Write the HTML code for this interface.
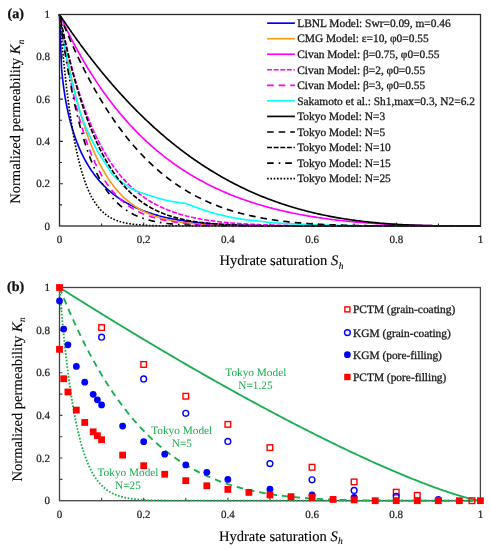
<!DOCTYPE html>
<html><head><meta charset="utf-8"><style>
html,body{margin:0;padding:0;background:#fff;}
body{width:490px;height:550px;overflow:hidden;font-family:"Liberation Serif",serif;}
svg{display:block;will-change:transform;} text{text-rendering:geometricPrecision;stroke-width:0.3px;}
</style></head><body>
<svg width="490" height="550" viewBox="0 0 490 550">
<rect width="490" height="550" fill="#fff"/>
<g>
<path d="M59.50,14.50 L61.60,68.86 L61.61,68.88 L61.62,68.97 L61.63,69.12 L61.65,69.33 L61.67,69.59 L61.70,69.91 L61.73,70.29 L61.77,70.71 L61.82,71.19 L61.87,71.72 L61.92,72.30 L61.98,72.92 L62.05,73.59 L62.12,74.30 L62.20,75.04 L62.28,75.83 L62.37,76.65 L62.46,77.50 L62.55,78.38 L62.66,79.30 L62.77,80.24 L62.88,81.20 L63.00,82.19 L63.12,83.20 L63.25,84.22 L63.38,85.27 L63.52,86.33 L63.67,87.41 L63.82,88.50 L63.97,89.61 L64.13,90.73 L64.30,91.85 L64.47,92.99 L64.65,94.13 L64.83,95.28 L65.02,96.44 L65.21,97.61 L65.40,98.77 L65.61,99.94 L65.81,101.12 L66.03,102.30 L66.25,103.48 L66.47,104.66 L66.70,105.84 L66.93,107.02 L67.17,108.20 L67.42,109.38 L67.67,110.56 L67.92,111.74 L68.18,112.92 L68.45,114.09 L68.72,115.26 L69.00,116.43 L69.28,117.60 L69.56,118.76 L69.86,119.92 L70.15,121.07 L70.46,122.22 L70.76,123.37 L71.08,124.51 L71.40,125.65 L71.72,126.78 L72.05,127.90 L72.38,129.03 L72.72,130.14 L73.07,131.25 L73.42,132.36 L73.77,133.45 L74.13,134.55 L74.50,135.63 L74.87,136.71 L75.25,137.79 L75.63,138.85 L76.01,139.91 L76.41,140.97 L76.80,142.02 L77.21,143.06 L77.61,144.09 L78.03,145.12 L78.44,146.14 L78.87,147.15 L79.30,148.16 L79.73,149.16 L80.17,150.15 L80.62,151.14 L81.07,152.11 L81.52,153.09 L81.98,154.05 L82.45,155.01 L82.92,155.95 L83.39,156.90 L83.88,157.83 L84.36,158.76 L84.85,159.68 L85.35,160.59 L85.85,161.49 L86.36,162.39 L86.88,163.28 L87.39,164.16 L87.92,165.04 L88.45,165.90 L88.98,166.76 L89.52,167.62 L90.06,168.46 L90.61,169.30 L91.17,170.13 L91.73,170.95 L92.30,171.77 L92.87,172.58 L93.44,173.38 L94.02,174.17 L94.61,174.95 L95.20,175.73 L95.80,176.50 L96.40,177.26 L97.01,178.02 L97.62,178.77 L98.24,179.51 L98.87,180.24 L99.49,180.97 L100.13,181.69 L100.77,182.40 L101.41,183.10 L102.06,183.80 L102.72,184.49 L103.38,185.17 L104.04,185.85 L104.72,186.52 L105.39,187.18 L106.07,187.83 L106.76,188.48 L107.45,189.12 L108.15,189.75 L108.85,190.38 L109.56,191.00 L110.27,191.61 L110.99,192.21 L111.71,192.81 L112.44,193.40 L113.18,193.98 L113.92,194.56 L114.66,195.13 L115.41,195.69 L116.17,196.25 L116.93,196.80 L117.69,197.34 L118.46,197.88 L119.24,198.41 L120.02,198.93 L120.81,199.45 L121.60,199.96 L122.40,200.46 L123.20,200.96 L124.01,201.45 L124.82,201.93 L125.64,202.41 L126.46,202.88 L127.29,203.35 L128.13,203.81 L128.96,204.26 L129.81,204.71 L130.66,205.15 L131.51,205.58 L132.37,206.01 L133.24,206.43 L134.11,206.85 L134.99,207.26 L135.87,207.66 L136.76,208.06 L137.65,208.45 L138.54,208.84 L139.45,209.22 L140.36,209.60 L141.27,209.96 L142.19,210.33 L143.11,210.69 L144.04,211.04 L144.97,211.39 L145.91,211.73 L146.86,212.06 L147.81,212.39 L148.76,212.72 L149.72,213.04 L150.69,213.35 L151.66,213.66 L152.64,213.97 L153.62,214.27 L154.60,214.56 L155.60,214.85 L156.59,215.13 L157.60,215.41 L158.60,215.69 L159.62,215.95 L160.63,216.22 L161.66,216.48 L162.69,216.73 L163.72,216.98 L164.76,217.23 L165.80,217.47 L166.85,217.70 L167.91,217.94 L168.97,218.16 L170.04,218.39 L171.11,218.60 L172.18,218.82 L173.26,219.03 L174.35,219.23 L175.44,219.43 L176.54,219.63 L177.64,219.82 L178.75,220.01 L179.86,220.19 L180.98,220.37 L182.10,220.55 L183.23,220.72 L184.37,220.89 L185.51,221.06 L186.65,221.22 L187.80,221.38 L188.96,221.53 L190.12,221.68 L191.28,221.83 L192.45,221.97 L193.63,222.11 L194.81,222.25 L196.00,222.38 L197.19,222.51 L198.39,222.63 L199.59,222.76 L200.80,222.88 L202.01,222.99 L203.23,223.11 L204.45,223.22 L205.68,223.32 L206.91,223.43 L208.15,223.53 L209.40,223.63 L210.65,223.72 L211.90,223.82 L213.16,223.91 L214.43,224.00 L215.70,224.08 L216.98,224.16 L218.26,224.24 L219.54,224.32 L220.84,224.40 L222.13,224.47 L223.44,224.54 L224.74,224.61 L226.06,224.67 L227.38,224.73 L228.70,224.80 L230.03,224.85 L231.36,224.91 L232.70,224.97 L234.05,225.02 L235.40,225.07 L236.75,225.12 L238.11,225.17 L239.48,225.21 L240.85,225.25 L242.22,225.30 L243.60,225.34 L244.99,225.37 L246.38,225.41 L247.78,225.45 L249.18,225.48 L250.59,225.51 L252.00,225.54 L253.42,225.57 L254.85,225.60 L256.27,225.63 L257.71,225.65 L259.15,225.67 L260.59,225.70 L262.04,225.72 L263.50,225.74 L264.96,225.76 L266.42,225.78 L267.89,225.79 L269.37,225.81 L270.85,225.82 L272.34,225.84 L273.83,225.85 L275.33,225.87 L276.83,225.88 L278.34,225.89 L279.85,225.90 L281.37,225.91 L282.89,225.92 L284.42,225.93 L285.95,225.93 L287.49,225.94 L289.04,225.95 L290.59,225.95 L292.14,225.96 L293.70,225.96 L295.27,225.97 L296.84,225.97 L298.42,225.97 L300.00,225.98 L301.58,225.98 L303.18,225.98 L304.77,225.99 L306.38,225.99 L307.98,225.99 L309.60,225.99 L311.21,225.99 L312.84,225.99 L314.47,226.00 L316.10,226.00 L317.74,226.00 L319.38,226.00 L321.03,226.00 L322.69,226.00 L324.35,226.00 L326.02,226.00 L327.69,226.00 L329.36,226.00 L331.04,226.00 L332.73,226.00 L334.42,226.00 L336.12,226.00 L337.82,226.00 L339.53,226.00 L341.24,226.00 L342.96,226.00 L344.68,226.00 L346.41,226.00 L348.15,226.00 L349.89,226.00 L351.63,226.00 L353.38,226.00 L355.13,226.00 L356.90,226.00 L358.66,226.00 L360.43,226.00 L362.21,226.00 L363.99,226.00 L365.78,226.00 L367.57,226.00 L369.36,226.00 L371.17,226.00 L372.97,226.00 L374.79,226.00 L376.61,226.00 L378.43,226.00 L380.26,226.00 L382.09,226.00 L383.93,226.00 L385.78,226.00 L387.63,226.00 L389.48,226.00 L391.34,226.00 L393.21,226.00 L395.08,226.00 L396.95,226.00 L398.83,226.00 L400.72,226.00 L402.61,226.00 L404.51,226.00 L406.41,226.00 L408.32,226.00 L410.23,226.00 L412.15,226.00 L414.07,226.00 L416.00,226.00 L417.94,226.00 L419.88,226.00 L421.82,226.00 L423.77,226.00 L425.73,226.00 L427.69,226.00 L429.65,226.00 L431.62,226.00 L433.60,226.00 L435.58,226.00 L437.57,226.00 L439.56,226.00 L441.56,226.00 L443.56,226.00 L445.57,226.00 L447.58,226.00 L449.60,226.00 L451.62,226.00 L453.65,226.00 L455.68,226.00 L457.72,226.00 L459.77,226.00 L461.82,226.00 L463.87,226.00 L465.93,226.00 L468.00,226.00 L470.07,226.00 L472.14,226.00 L474.22,226.00 L476.31,226.00 L478.40,226.00 L480.50,226.00" fill="none" stroke="#0000ee" stroke-width="1.65" stroke-linecap="butt" stroke-linejoin="round"/>
<path d="M59.50,14.50 L59.50,14.51 L59.51,14.54 L59.52,14.60 L59.53,14.67 L59.54,14.76 L59.56,14.88 L59.58,15.02 L59.61,15.18 L59.64,15.35 L59.67,15.55 L59.70,15.78 L59.74,16.02 L59.79,16.28 L59.83,16.56 L59.88,16.87 L59.93,17.19 L59.99,17.53 L60.05,17.90 L60.11,18.28 L60.18,18.69 L60.25,19.11 L60.32,19.56 L60.39,20.02 L60.47,20.51 L60.56,21.01 L60.64,21.53 L60.73,22.07 L60.83,22.63 L60.92,23.21 L61.02,23.81 L61.12,24.43 L61.23,25.06 L61.34,25.72 L61.45,26.39 L61.57,27.08 L61.69,27.78 L61.81,28.51 L61.94,29.25 L62.07,30.01 L62.21,30.78 L62.34,31.57 L62.48,32.38 L62.63,33.21 L62.77,34.05 L62.92,34.90 L63.08,35.77 L63.23,36.66 L63.40,37.56 L63.56,38.48 L63.73,39.41 L63.90,40.35 L64.07,41.31 L64.25,42.29 L64.43,43.27 L64.61,44.27 L64.80,45.28 L64.99,46.31 L65.19,47.35 L65.39,48.40 L65.59,49.46 L65.79,50.53 L66.00,51.62 L66.21,52.71 L66.43,53.82 L66.64,54.94 L66.86,56.06 L67.09,57.20 L67.32,58.35 L67.55,59.50 L67.78,60.67 L68.02,61.84 L68.26,63.03 L68.51,64.22 L68.76,65.42 L69.01,66.63 L69.27,67.84 L69.52,69.06 L69.79,70.29 L70.05,71.52 L70.32,72.76 L70.59,74.01 L70.87,75.26 L71.15,76.52 L71.43,77.79 L71.72,79.05 L72.00,80.33 L72.30,81.60 L72.59,82.88 L72.89,84.17 L73.20,85.45 L73.50,86.74 L73.81,88.04 L74.12,89.33 L74.44,90.63 L74.76,91.93 L75.08,93.23 L75.41,94.54 L75.74,95.84 L76.07,97.15 L76.41,98.45 L76.75,99.76 L77.09,101.06 L77.44,102.37 L77.79,103.68 L78.14,104.98 L78.50,106.28 L78.86,107.59 L79.22,108.89 L79.59,110.19 L79.96,111.49 L80.33,112.78 L80.71,114.08 L81.09,115.37 L81.47,116.65 L81.86,117.94 L82.25,119.22 L82.64,120.50 L83.04,121.77 L83.44,123.04 L83.85,124.31 L84.25,125.57 L84.67,126.83 L85.08,128.08 L85.50,129.33 L85.92,130.57 L86.34,131.81 L86.77,133.04 L87.20,134.27 L87.64,135.49 L88.07,136.70 L88.52,137.91 L88.96,139.11 L89.41,140.30 L89.86,141.49 L90.31,142.67 L90.77,143.85 L91.23,145.01 L91.70,146.17 L92.17,147.33 L92.64,148.47 L93.11,149.61 L93.59,150.74 L94.07,151.86 L94.56,152.97 L95.05,154.07 L95.54,155.17 L96.04,156.26 L96.53,157.34 L97.04,158.41 L97.54,159.47 L98.05,160.52 L98.56,161.57 L99.08,162.60 L99.60,163.63 L100.12,164.65 L100.65,165.65 L101.18,166.65 L101.71,167.64 L102.24,168.62 L102.78,169.59 L103.33,170.55 L103.87,171.50 L104.42,172.45 L104.97,173.38 L105.53,174.30 L106.09,175.21 L106.65,176.11 L107.22,177.01 L107.79,177.89 L108.36,178.76 L108.94,179.62 L109.52,180.48 L110.10,181.32 L110.69,182.15 L111.28,182.98 L111.87,183.79 L112.47,184.59 L113.07,185.39 L113.67,186.17 L114.28,186.94 L114.89,187.71 L115.50,188.46 L116.12,189.20 L116.74,189.94 L117.37,190.66 L117.99,191.37 L118.62,192.08 L119.26,192.77 L119.90,193.46 L120.54,194.13 L121.18,194.80 L121.83,195.45 L122.48,196.10 L123.13,196.73 L123.79,197.36 L124.45,197.98 L125.12,198.58 L125.78,199.18 L126.46,199.77 L127.13,200.35 L127.81,200.92 L128.49,201.48 L129.17,202.03 L129.86,202.58 L130.55,203.11 L131.25,203.64 L131.95,204.15 L132.65,204.66 L133.35,205.16 L134.06,205.65 L134.77,206.13 L135.49,206.61 L136.21,207.07 L136.93,207.53 L137.66,207.98 L138.38,208.42 L139.12,208.85 L139.85,209.27 L140.59,209.69 L141.33,210.10 L142.08,210.50 L142.83,210.89 L143.58,211.28 L144.34,211.65 L145.09,212.02 L145.86,212.39 L146.62,212.74 L147.39,213.09 L148.16,213.43 L148.94,213.77 L149.72,214.09 L150.50,214.41 L151.29,214.73 L152.08,215.03 L152.87,215.34 L153.67,215.63 L154.47,215.92 L155.27,216.20 L156.08,216.47 L156.89,216.74 L157.70,217.01 L158.52,217.26 L159.34,217.51 L160.16,217.76 L160.99,218.00 L161.82,218.23 L162.65,218.46 L163.49,218.69 L164.33,218.91 L165.17,219.12 L166.02,219.33 L166.87,219.53 L167.72,219.73 L168.58,219.92 L169.44,220.11 L170.31,220.29 L171.17,220.47 L172.04,220.64 L172.92,220.81 L173.80,220.98 L174.68,221.14 L175.56,221.30 L176.45,221.45 L177.34,221.60 L178.23,221.74 L179.13,221.88 L180.03,222.02 L180.94,222.15 L181.84,222.28 L182.76,222.41 L183.67,222.53 L184.59,222.65 L185.51,222.77 L186.44,222.88 L187.36,222.99 L188.30,223.09 L189.23,223.20 L190.17,223.30 L191.11,223.39 L192.06,223.49 L193.00,223.58 L193.96,223.67 L194.91,223.75 L195.87,223.83 L196.83,223.91 L197.80,223.99 L198.77,224.07 L199.74,224.14 L200.71,224.21 L201.69,224.28 L202.67,224.35 L203.66,224.41 L204.65,224.47 L205.64,224.53 L206.64,224.59 L207.64,224.65 L208.64,224.70 L209.65,224.75 L210.66,224.80 L211.67,224.85 L212.68,224.90 L213.70,224.95 L214.73,224.99 L215.75,225.03 L216.78,225.07 L217.82,225.11 L218.85,225.15 L219.89,225.19 L220.94,225.22 L221.98,225.26 L223.03,225.29 L224.08,225.32 L225.14,225.35 L226.20,225.38 L227.27,225.41 L228.33,225.43 L229.40,225.46 L230.48,225.48 L231.55,225.51 L232.63,225.53 L233.72,225.55 L234.80,225.57 L235.89,225.59 L236.99,225.61 L238.09,225.63 L239.19,225.65 L240.29,225.67 L241.40,225.68 L242.51,225.70 L243.62,225.71 L244.74,225.73 L245.86,225.74 L246.99,225.76 L248.11,225.77 L249.25,225.78 L250.38,225.79 L251.52,225.80 L252.66,225.81 L253.80,225.82 L254.95,225.83 L256.10,225.84 L257.26,225.85 L258.42,225.86 L259.58,225.87 L260.74,225.87 L261.91,225.88 L263.08,225.89 L264.26,225.89 L265.44,225.90 L266.62,225.91 L267.80,225.91 L268.99,225.92 L270.18,225.92 L271.38,225.93 L272.58,225.93 L273.78,225.93 L274.99,225.94 L276.19,225.94 L277.41,225.95 L278.62,225.95 L279.84,225.95 L281.06,225.96 L282.29,225.96 L283.52,225.96 L284.75,225.96 L285.99,225.97 L287.23,225.97 L288.47,225.97 L289.72,225.97 L290.96,225.97 L292.22,225.98 L293.47,225.98 L294.73,225.98 L296.00,225.98 L297.26,225.98 L298.53,225.98 L299.81,225.98 L301.08,225.99 L302.36,225.99 L303.65,225.99 L304.93,225.99 L306.22,225.99 L307.52,225.99 L308.81,225.99 L310.11,225.99 L311.42,225.99 L312.72,225.99 L314.03,225.99 L315.35,225.99 L316.66,225.99 L317.98,225.99 L319.31,226.00 L320.64,226.00 L321.97,226.00 L323.30,226.00 L324.64,226.00 L325.98,226.00 L327.32,226.00 L328.67,226.00 L330.02,226.00 L331.38,226.00 L332.73,226.00 L334.09,226.00 L335.46,226.00 L336.83,226.00 L338.20,226.00 L339.57,226.00 L340.95,226.00 L342.33,226.00 L343.72,226.00 L345.10,226.00 L346.50,226.00 L347.89,226.00 L349.29,226.00 L350.69,226.00 L352.10,226.00 L353.50,226.00 L354.92,226.00 L356.33,226.00 L357.75,226.00 L359.17,226.00 L360.60,226.00 L362.03,226.00 L363.46,226.00 L364.89,226.00 L366.33,226.00 L367.77,226.00 L369.22,226.00 L370.67,226.00 L372.12,226.00 L373.58,226.00 L375.04,226.00 L376.50,226.00 L377.96,226.00 L379.43,226.00 L380.91,226.00 L382.38,226.00 L383.86,226.00 L385.34,226.00 L386.83,226.00 L388.32,226.00 L389.81,226.00 L391.31,226.00 L392.81,226.00 L394.31,226.00 L395.82,226.00 L397.33,226.00 L398.84,226.00 L400.36,226.00 L401.88,226.00 L403.40,226.00 L404.93,226.00 L406.46,226.00 L407.99,226.00 L409.53,226.00 L411.07,226.00 L412.61,226.00 L414.16,226.00 L415.71,226.00 L417.26,226.00 L418.82,226.00 L420.38,226.00 L421.95,226.00 L423.51,226.00 L425.08,226.00 L426.66,226.00 L428.24,226.00 L429.82,226.00 L431.40,226.00 L432.99,226.00 L434.58,226.00 L436.17,226.00 L437.77,226.00 L439.37,226.00 L440.98,226.00 L442.58,226.00 L444.20,226.00 L445.81,226.00 L447.43,226.00 L449.05,226.00 L450.68,226.00 L452.30,226.00 L453.93,226.00 L455.57,226.00 L457.21,226.00 L458.85,226.00 L460.49,226.00 L462.14,226.00 L463.80,226.00 L465.45,226.00 L467.11,226.00 L468.77,226.00 L470.44,226.00 L472.11,226.00 L473.78,226.00 L475.45,226.00 L477.13,226.00 L478.81,226.00 L480.50,226.00" fill="none" stroke="#f89b1c" stroke-width="1.65" stroke-linecap="butt" stroke-linejoin="round"/>
<path d="M59.50,14.50 L59.50,14.50 L59.51,14.51 L59.52,14.53 L59.53,14.56 L59.54,14.59 L59.56,14.63 L59.58,14.68 L59.61,14.74 L59.64,14.80 L59.67,14.87 L59.70,14.94 L59.74,15.03 L59.79,15.12 L59.83,15.22 L59.88,15.33 L59.93,15.44 L59.99,15.56 L60.05,15.69 L60.11,15.82 L60.18,15.97 L60.25,16.12 L60.32,16.27 L60.39,16.44 L60.47,16.61 L60.56,16.79 L60.64,16.97 L60.73,17.17 L60.83,17.37 L60.92,17.57 L61.02,17.79 L61.12,18.01 L61.23,18.24 L61.34,18.47 L61.45,18.71 L61.57,18.96 L61.69,19.22 L61.81,19.48 L61.94,19.75 L62.07,20.03 L62.21,20.31 L62.34,20.60 L62.48,20.90 L62.63,21.20 L62.77,21.51 L62.92,21.83 L63.08,22.15 L63.23,22.48 L63.40,22.82 L63.56,23.16 L63.73,23.51 L63.90,23.86 L64.07,24.23 L64.25,24.59 L64.43,24.97 L64.61,25.35 L64.80,25.74 L64.99,26.13 L65.19,26.53 L65.39,26.94 L65.59,27.35 L65.79,27.77 L66.00,28.19 L66.21,28.62 L66.43,29.06 L66.64,29.50 L66.86,29.95 L67.09,30.40 L67.32,30.86 L67.55,31.33 L67.78,31.80 L68.02,32.28 L68.26,32.76 L68.51,33.25 L68.76,33.74 L69.01,34.24 L69.27,34.74 L69.52,35.25 L69.79,35.77 L70.05,36.29 L70.32,36.81 L70.59,37.34 L70.87,37.88 L71.15,38.42 L71.43,38.97 L71.72,39.52 L72.00,40.07 L72.30,40.63 L72.59,41.20 L72.89,41.77 L73.20,42.34 L73.50,42.92 L73.81,43.51 L74.12,44.10 L74.44,44.69 L74.76,45.29 L75.08,45.89 L75.41,46.50 L75.74,47.11 L76.07,47.72 L76.41,48.34 L76.75,48.96 L77.09,49.59 L77.44,50.22 L77.79,50.86 L78.14,51.50 L78.50,52.14 L78.86,52.78 L79.22,53.43 L79.59,54.09 L79.96,54.75 L80.33,55.41 L80.71,56.07 L81.09,56.74 L81.47,57.41 L81.86,58.09 L82.25,58.77 L82.64,59.45 L83.04,60.13 L83.44,60.82 L83.85,61.51 L84.25,62.20 L84.67,62.90 L85.08,63.60 L85.50,64.30 L85.92,65.01 L86.34,65.71 L86.77,66.42 L87.20,67.14 L87.64,67.85 L88.07,68.57 L88.52,69.29 L88.96,70.01 L89.41,70.74 L89.86,71.47 L90.31,72.20 L90.77,72.93 L91.23,73.66 L91.70,74.40 L92.17,75.13 L92.64,75.87 L93.11,76.61 L93.59,77.36 L94.07,78.10 L94.56,78.85 L95.05,79.60 L95.54,80.35 L96.04,81.10 L96.53,81.85 L97.04,82.61 L97.54,83.36 L98.05,84.12 L98.56,84.88 L99.08,85.63 L99.60,86.39 L100.12,87.16 L100.65,87.92 L101.18,88.68 L101.71,89.45 L102.24,90.21 L102.78,90.98 L103.33,91.74 L103.87,92.51 L104.42,93.28 L104.97,94.05 L105.53,94.81 L106.09,95.58 L106.65,96.35 L107.22,97.12 L107.79,97.89 L108.36,98.67 L108.94,99.44 L109.52,100.21 L110.10,100.98 L110.69,101.75 L111.28,102.52 L111.87,103.29 L112.47,104.06 L113.07,104.84 L113.67,105.61 L114.28,106.38 L114.89,107.15 L115.50,107.92 L116.12,108.69 L116.74,109.46 L117.37,110.23 L117.99,110.99 L118.62,111.76 L119.26,112.53 L119.90,113.30 L120.54,114.06 L121.18,114.83 L121.83,115.59 L122.48,116.35 L123.13,117.12 L123.79,117.88 L124.45,118.64 L125.12,119.40 L125.78,120.16 L126.46,120.92 L127.13,121.67 L127.81,122.43 L128.49,123.18 L129.17,123.94 L129.86,124.69 L130.55,125.44 L131.25,126.19 L131.95,126.93 L132.65,127.68 L133.35,128.42 L134.06,129.17 L134.77,129.91 L135.49,130.65 L136.21,131.39 L136.93,132.12 L137.66,132.86 L138.38,133.59 L139.12,134.32 L139.85,135.05 L140.59,135.78 L141.33,136.51 L142.08,137.23 L142.83,137.95 L143.58,138.67 L144.34,139.39 L145.09,140.11 L145.86,140.82 L146.62,141.53 L147.39,142.24 L148.16,142.95 L148.94,143.66 L149.72,144.36 L150.50,145.06 L151.29,145.76 L152.08,146.46 L152.87,147.15 L153.67,147.84 L154.47,148.53 L155.27,149.22 L156.08,149.90 L156.89,150.58 L157.70,151.26 L158.52,151.94 L159.34,152.61 L160.16,153.29 L160.99,153.95 L161.82,154.62 L162.65,155.29 L163.49,155.95 L164.33,156.60 L165.17,157.26 L166.02,157.91 L166.87,158.56 L167.72,159.21 L168.58,159.86 L169.44,160.50 L170.31,161.14 L171.17,161.77 L172.04,162.41 L172.92,163.04 L173.80,163.66 L174.68,164.29 L175.56,164.91 L176.45,165.53 L177.34,166.14 L178.23,166.76 L179.13,167.37 L180.03,167.97 L180.94,168.58 L181.84,169.18 L182.76,169.77 L183.67,170.37 L184.59,170.96 L185.51,171.55 L186.44,172.13 L187.36,172.71 L188.30,173.29 L189.23,173.87 L190.17,174.44 L191.11,175.01 L192.06,175.57 L193.00,176.13 L193.96,176.69 L194.91,177.25 L195.87,177.80 L196.83,178.35 L197.80,178.90 L198.77,179.44 L199.74,179.98 L200.71,180.52 L201.69,181.05 L202.67,181.58 L203.66,182.10 L204.65,182.63 L205.64,183.15 L206.64,183.66 L207.64,184.18 L208.64,184.68 L209.65,185.19 L210.66,185.69 L211.67,186.19 L212.68,186.69 L213.70,187.18 L214.73,187.67 L215.75,188.16 L216.78,188.64 L217.82,189.12 L218.85,189.59 L219.89,190.06 L220.94,190.53 L221.98,191.00 L223.03,191.46 L224.08,191.92 L225.14,192.37 L226.20,192.82 L227.27,193.27 L228.33,193.72 L229.40,194.16 L230.48,194.59 L231.55,195.03 L232.63,195.46 L233.72,195.89 L234.80,196.31 L235.89,196.73 L236.99,197.15 L238.09,197.56 L239.19,197.97 L240.29,198.38 L241.40,198.78 L242.51,199.18 L243.62,199.58 L244.74,199.97 L245.86,200.36 L246.99,200.75 L248.11,201.13 L249.25,201.51 L250.38,201.89 L251.52,202.26 L252.66,202.63 L253.80,202.99 L254.95,203.36 L256.10,203.72 L257.26,204.07 L258.42,204.42 L259.58,204.77 L260.74,205.12 L261.91,205.46 L263.08,205.80 L264.26,206.14 L265.44,206.47 L266.62,206.80 L267.80,207.12 L268.99,207.45 L270.18,207.77 L271.38,208.08 L272.58,208.39 L273.78,208.70 L274.99,209.01 L276.19,209.31 L277.41,209.61 L278.62,209.91 L279.84,210.20 L281.06,210.49 L282.29,210.78 L283.52,211.06 L284.75,211.34 L285.99,211.62 L287.23,211.89 L288.47,212.16 L289.72,212.43 L290.96,212.70 L292.22,212.96 L293.47,213.22 L294.73,213.47 L296.00,213.72 L297.26,213.97 L298.53,214.22 L299.81,214.46 L301.08,214.70 L302.36,214.94 L303.65,215.17 L304.93,215.40 L306.22,215.63 L307.52,215.85 L308.81,216.08 L310.11,216.29 L311.42,216.51 L312.72,216.72 L314.03,216.93 L315.35,217.14 L316.66,217.34 L317.98,217.54 L319.31,217.74 L320.64,217.94 L321.97,218.13 L323.30,218.32 L324.64,218.51 L325.98,218.69 L327.32,218.87 L328.67,219.05 L330.02,219.23 L331.38,219.40 L332.73,219.57 L334.09,219.74 L335.46,219.90 L336.83,220.07 L338.20,220.23 L339.57,220.38 L340.95,220.54 L342.33,220.69 L343.72,220.84 L345.10,220.99 L346.50,221.13 L347.89,221.27 L349.29,221.41 L350.69,221.55 L352.10,221.68 L353.50,221.81 L354.92,221.94 L356.33,222.07 L357.75,222.19 L359.17,222.31 L360.60,222.43 L362.03,222.55 L363.46,222.66 L364.89,222.77 L366.33,222.88 L367.77,222.99 L369.22,223.10 L370.67,223.20 L372.12,223.30 L373.58,223.40 L375.04,223.50 L376.50,223.59 L377.96,223.68 L379.43,223.77 L380.91,223.86 L382.38,223.94 L383.86,224.03 L385.34,224.11 L386.83,224.19 L388.32,224.26 L389.81,224.34 L391.31,224.41 L392.81,224.48 L394.31,224.55 L395.82,224.62 L397.33,224.68 L398.84,224.75 L400.36,224.81 L401.88,224.87 L403.40,224.93 L404.93,224.98 L406.46,225.04 L407.99,225.09 L409.53,225.14 L411.07,225.19 L412.61,225.23 L414.16,225.28 L415.71,225.32 L417.26,225.36 L418.82,225.41 L420.38,225.44 L421.95,225.48 L423.51,225.52 L425.08,225.55 L426.66,225.58 L428.24,225.61 L429.82,225.64 L431.40,225.67 L432.99,225.70 L434.58,225.72 L436.17,225.75 L437.77,225.77 L439.37,225.79 L440.98,225.81 L442.58,225.83 L444.20,225.85 L445.81,225.87 L447.43,225.88 L449.05,225.90 L450.68,225.91 L452.30,225.92 L453.93,225.93 L455.57,225.94 L457.21,225.95 L458.85,225.96 L460.49,225.97 L462.14,225.97 L463.80,225.98 L465.45,225.98 L467.11,225.99 L468.77,225.99 L470.44,225.99 L472.11,226.00 L473.78,226.00 L475.45,226.00 L477.13,226.00 L478.81,226.00 L480.50,226.00" fill="none" stroke="#ff00ff" stroke-width="1.65" stroke-linecap="butt" stroke-linejoin="round"/>
<path d="M59.50,14.50 L59.50,14.51 L59.51,14.53 L59.52,14.58 L59.53,14.63 L59.54,14.71 L59.56,14.80 L59.58,14.91 L59.61,15.04 L59.64,15.18 L59.67,15.34 L59.70,15.51 L59.74,15.71 L59.79,15.91 L59.83,16.14 L59.88,16.38 L59.93,16.64 L59.99,16.91 L60.05,17.20 L60.11,17.51 L60.18,17.83 L60.25,18.17 L60.32,18.53 L60.39,18.90 L60.47,19.28 L60.56,19.68 L60.64,20.10 L60.73,20.53 L60.83,20.98 L60.92,21.45 L61.02,21.92 L61.12,22.42 L61.23,22.93 L61.34,23.45 L61.45,23.99 L61.57,24.54 L61.69,25.11 L61.81,25.69 L61.94,26.28 L62.07,26.89 L62.21,27.52 L62.34,28.15 L62.48,28.81 L62.63,29.47 L62.77,30.15 L62.92,30.84 L63.08,31.54 L63.23,32.26 L63.40,32.99 L63.56,33.73 L63.73,34.48 L63.90,35.25 L64.07,36.03 L64.25,36.82 L64.43,37.62 L64.61,38.43 L64.80,39.25 L64.99,40.09 L65.19,40.94 L65.39,41.79 L65.59,42.66 L65.79,43.54 L66.00,44.43 L66.21,45.32 L66.43,46.23 L66.64,47.15 L66.86,48.08 L67.09,49.01 L67.32,49.96 L67.55,50.91 L67.78,51.87 L68.02,52.84 L68.26,53.82 L68.51,54.81 L68.76,55.81 L69.01,56.81 L69.27,57.82 L69.52,58.84 L69.79,59.86 L70.05,60.89 L70.32,61.93 L70.59,62.97 L70.87,64.02 L71.15,65.08 L71.43,66.14 L71.72,67.21 L72.00,68.28 L72.30,69.36 L72.59,70.44 L72.89,71.53 L73.20,72.62 L73.50,73.72 L73.81,74.82 L74.12,75.92 L74.44,77.03 L74.76,78.14 L75.08,79.26 L75.41,80.38 L75.74,81.50 L76.07,82.62 L76.41,83.75 L76.75,84.88 L77.09,86.01 L77.44,87.14 L77.79,88.27 L78.14,89.41 L78.50,90.55 L78.86,91.69 L79.22,92.83 L79.59,93.97 L79.96,95.11 L80.33,96.25 L80.71,97.39 L81.09,98.53 L81.47,99.68 L81.86,100.82 L82.25,101.96 L82.64,103.10 L83.04,104.24 L83.44,105.38 L83.85,106.52 L84.25,107.65 L84.67,108.79 L85.08,109.92 L85.50,111.05 L85.92,112.18 L86.34,113.31 L86.77,114.43 L87.20,115.56 L87.64,116.68 L88.07,117.79 L88.52,118.91 L88.96,120.02 L89.41,121.13 L89.86,122.23 L90.31,123.34 L90.77,124.43 L91.23,125.53 L91.70,126.62 L92.17,127.71 L92.64,128.79 L93.11,129.87 L93.59,130.94 L94.07,132.01 L94.56,133.08 L95.05,134.14 L95.54,135.19 L96.04,136.25 L96.53,137.29 L97.04,138.33 L97.54,139.37 L98.05,140.40 L98.56,141.42 L99.08,142.44 L99.60,143.46 L100.12,144.47 L100.65,145.47 L101.18,146.47 L101.71,147.46 L102.24,148.44 L102.78,149.42 L103.33,150.39 L103.87,151.36 L104.42,152.32 L104.97,153.28 L105.53,154.22 L106.09,155.16 L106.65,156.10 L107.22,157.03 L107.79,157.95 L108.36,158.86 L108.94,159.77 L109.52,160.67 L110.10,161.56 L110.69,162.45 L111.28,163.33 L111.87,164.20 L112.47,165.07 L113.07,165.93 L113.67,166.78 L114.28,167.63 L114.89,168.46 L115.50,169.29 L116.12,170.12 L116.74,170.93 L117.37,171.74 L117.99,172.54 L118.62,173.34 L119.26,174.12 L119.90,174.90 L120.54,175.67 L121.18,176.44 L121.83,177.19 L122.48,177.94 L123.13,178.69 L123.79,179.42 L124.45,180.15 L125.12,180.87 L125.78,181.58 L126.46,182.29 L127.13,182.98 L127.81,183.67 L128.49,184.36 L129.17,185.03 L129.86,185.70 L130.55,186.36 L131.25,187.02 L131.95,187.66 L132.65,188.30 L133.35,188.93 L134.06,189.56 L134.77,190.17 L135.49,190.78 L136.21,191.39 L136.93,191.98 L137.66,192.57 L138.38,193.15 L139.12,193.72 L139.85,194.29 L140.59,194.85 L141.33,195.40 L142.08,195.95 L142.83,196.49 L143.58,197.02 L144.34,197.54 L145.09,198.06 L145.86,198.57 L146.62,199.08 L147.39,199.57 L148.16,200.07 L148.94,200.55 L149.72,201.03 L150.50,201.50 L151.29,201.96 L152.08,202.42 L152.87,202.87 L153.67,203.32 L154.47,203.76 L155.27,204.19 L156.08,204.62 L156.89,205.04 L157.70,205.45 L158.52,205.86 L159.34,206.26 L160.16,206.65 L160.99,207.04 L161.82,207.43 L162.65,207.81 L163.49,208.18 L164.33,208.54 L165.17,208.90 L166.02,209.26 L166.87,209.61 L167.72,209.95 L168.58,210.29 L169.44,210.62 L170.31,210.95 L171.17,211.27 L172.04,211.59 L172.92,211.90 L173.80,212.20 L174.68,212.51 L175.56,212.80 L176.45,213.09 L177.34,213.38 L178.23,213.66 L179.13,213.94 L180.03,214.21 L180.94,214.47 L181.84,214.73 L182.76,214.99 L183.67,215.24 L184.59,215.49 L185.51,215.74 L186.44,215.97 L187.36,216.21 L188.30,216.44 L189.23,216.66 L190.17,216.89 L191.11,217.10 L192.06,217.32 L193.00,217.53 L193.96,217.73 L194.91,217.93 L195.87,218.13 L196.83,218.33 L197.80,218.52 L198.77,218.70 L199.74,218.88 L200.71,219.06 L201.69,219.24 L202.67,219.41 L203.66,219.58 L204.65,219.74 L205.64,219.90 L206.64,220.06 L207.64,220.22 L208.64,220.37 L209.65,220.52 L210.66,220.66 L211.67,220.80 L212.68,220.94 L213.70,221.08 L214.73,221.21 L215.75,221.34 L216.78,221.47 L217.82,221.59 L218.85,221.71 L219.89,221.83 L220.94,221.95 L221.98,222.06 L223.03,222.17 L224.08,222.28 L225.14,222.39 L226.20,222.49 L227.27,222.59 L228.33,222.69 L229.40,222.79 L230.48,222.88 L231.55,222.98 L232.63,223.07 L233.72,223.15 L234.80,223.24 L235.89,223.32 L236.99,223.40 L238.09,223.48 L239.19,223.56 L240.29,223.63 L241.40,223.71 L242.51,223.78 L243.62,223.85 L244.74,223.92 L245.86,223.98 L246.99,224.05 L248.11,224.11 L249.25,224.17 L250.38,224.23 L251.52,224.29 L252.66,224.35 L253.80,224.40 L254.95,224.45 L256.10,224.51 L257.26,224.56 L258.42,224.60 L259.58,224.65 L260.74,224.70 L261.91,224.74 L263.08,224.79 L264.26,224.83 L265.44,224.87 L266.62,224.91 L267.80,224.95 L268.99,224.99 L270.18,225.02 L271.38,225.06 L272.58,225.09 L273.78,225.13 L274.99,225.16 L276.19,225.19 L277.41,225.22 L278.62,225.25 L279.84,225.28 L281.06,225.31 L282.29,225.33 L283.52,225.36 L284.75,225.39 L285.99,225.41 L287.23,225.43 L288.47,225.46 L289.72,225.48 L290.96,225.50 L292.22,225.52 L293.47,225.54 L294.73,225.56 L296.00,225.58 L297.26,225.60 L298.53,225.61 L299.81,225.63 L301.08,225.65 L302.36,225.66 L303.65,225.68 L304.93,225.69 L306.22,225.70 L307.52,225.72 L308.81,225.73 L310.11,225.74 L311.42,225.75 L312.72,225.77 L314.03,225.78 L315.35,225.79 L316.66,225.80 L317.98,225.81 L319.31,225.82 L320.64,225.83 L321.97,225.83 L323.30,225.84 L324.64,225.85 L325.98,225.86 L327.32,225.86 L328.67,225.87 L330.02,225.88 L331.38,225.88 L332.73,225.89 L334.09,225.90 L335.46,225.90 L336.83,225.91 L338.20,225.91 L339.57,225.92 L340.95,225.92 L342.33,225.93 L343.72,225.93 L345.10,225.93 L346.50,225.94 L347.89,225.94 L349.29,225.95 L350.69,225.95 L352.10,225.95 L353.50,225.96 L354.92,225.96 L356.33,225.96 L357.75,225.96 L359.17,225.97 L360.60,225.97 L362.03,225.97 L363.46,225.97 L364.89,225.97 L366.33,225.98 L367.77,225.98 L369.22,225.98 L370.67,225.98 L372.12,225.98 L373.58,225.98 L375.04,225.98 L376.50,225.99 L377.96,225.99 L379.43,225.99 L380.91,225.99 L382.38,225.99 L383.86,225.99 L385.34,225.99 L386.83,225.99 L388.32,225.99 L389.81,225.99 L391.31,225.99 L392.81,225.99 L394.31,225.99 L395.82,226.00 L397.33,226.00 L398.84,226.00 L400.36,226.00 L401.88,226.00 L403.40,226.00 L404.93,226.00 L406.46,226.00 L407.99,226.00 L409.53,226.00 L411.07,226.00 L412.61,226.00 L414.16,226.00 L415.71,226.00 L417.26,226.00 L418.82,226.00 L420.38,226.00 L421.95,226.00 L423.51,226.00 L425.08,226.00 L426.66,226.00 L428.24,226.00 L429.82,226.00 L431.40,226.00 L432.99,226.00 L434.58,226.00 L436.17,226.00 L437.77,226.00 L439.37,226.00 L440.98,226.00 L442.58,226.00 L444.20,226.00 L445.81,226.00 L447.43,226.00 L449.05,226.00 L450.68,226.00 L452.30,226.00 L453.93,226.00 L455.57,226.00 L457.21,226.00 L458.85,226.00 L460.49,226.00 L462.14,226.00 L463.80,226.00 L465.45,226.00 L467.11,226.00 L468.77,226.00 L470.44,226.00 L472.11,226.00 L473.78,226.00 L475.45,226.00 L477.13,226.00 L478.81,226.00 L480.50,226.00" fill="none" stroke="#ff00ff" stroke-width="1.65" stroke-dasharray="4.95,1.65" stroke-linecap="butt" stroke-linejoin="round"/>
<path d="M59.50,14.50 L59.50,14.51 L59.51,14.55 L59.52,14.61 L59.53,14.69 L59.54,14.80 L59.56,14.94 L59.58,15.10 L59.61,15.28 L59.64,15.48 L59.67,15.71 L59.70,15.97 L59.74,16.25 L59.79,16.55 L59.83,16.87 L59.88,17.22 L59.93,17.59 L59.99,17.99 L60.05,18.41 L60.11,18.85 L60.18,19.31 L60.25,19.80 L60.32,20.31 L60.39,20.84 L60.47,21.40 L60.56,21.97 L60.64,22.57 L60.73,23.19 L60.83,23.83 L60.92,24.49 L61.02,25.18 L61.12,25.88 L61.23,26.60 L61.34,27.35 L61.45,28.11 L61.57,28.90 L61.69,29.70 L61.81,30.52 L61.94,31.36 L62.07,32.22 L62.21,33.10 L62.34,34.00 L62.48,34.91 L62.63,35.84 L62.77,36.79 L62.92,37.76 L63.08,38.74 L63.23,39.74 L63.40,40.76 L63.56,41.79 L63.73,42.83 L63.90,43.89 L64.07,44.97 L64.25,46.06 L64.43,47.16 L64.61,48.28 L64.80,49.41 L64.99,50.55 L65.19,51.71 L65.39,52.87 L65.59,54.05 L65.79,55.24 L66.00,56.45 L66.21,57.66 L66.43,58.88 L66.64,60.12 L66.86,61.36 L67.09,62.62 L67.32,63.88 L67.55,65.15 L67.78,66.43 L68.02,67.71 L68.26,69.01 L68.51,70.31 L68.76,71.62 L69.01,72.93 L69.27,74.26 L69.52,75.58 L69.79,76.92 L70.05,78.25 L70.32,79.60 L70.59,80.94 L70.87,82.29 L71.15,83.65 L71.43,85.01 L71.72,86.37 L72.00,87.73 L72.30,89.10 L72.59,90.47 L72.89,91.84 L73.20,93.21 L73.50,94.58 L73.81,95.95 L74.12,97.32 L74.44,98.70 L74.76,100.07 L75.08,101.44 L75.41,102.81 L75.74,104.18 L76.07,105.55 L76.41,106.92 L76.75,108.29 L77.09,109.65 L77.44,111.01 L77.79,112.37 L78.14,113.72 L78.50,115.07 L78.86,116.42 L79.22,117.76 L79.59,119.10 L79.96,120.43 L80.33,121.76 L80.71,123.09 L81.09,124.41 L81.47,125.72 L81.86,127.03 L82.25,128.33 L82.64,129.63 L83.04,130.92 L83.44,132.20 L83.85,133.48 L84.25,134.75 L84.67,136.01 L85.08,137.27 L85.50,138.51 L85.92,139.75 L86.34,140.99 L86.77,142.21 L87.20,143.43 L87.64,144.64 L88.07,145.84 L88.52,147.03 L88.96,148.21 L89.41,149.38 L89.86,150.55 L90.31,151.70 L90.77,152.85 L91.23,153.99 L91.70,155.11 L92.17,156.23 L92.64,157.34 L93.11,158.44 L93.59,159.52 L94.07,160.60 L94.56,161.67 L95.05,162.73 L95.54,163.78 L96.04,164.82 L96.53,165.84 L97.04,166.86 L97.54,167.87 L98.05,168.86 L98.56,169.85 L99.08,170.82 L99.60,171.79 L100.12,172.74 L100.65,173.69 L101.18,174.62 L101.71,175.54 L102.24,176.45 L102.78,177.35 L103.33,178.24 L103.87,179.12 L104.42,179.99 L104.97,180.85 L105.53,181.69 L106.09,182.53 L106.65,183.35 L107.22,184.17 L107.79,184.97 L108.36,185.77 L108.94,186.55 L109.52,187.32 L110.10,188.08 L110.69,188.83 L111.28,189.57 L111.87,190.30 L112.47,191.02 L113.07,191.73 L113.67,192.43 L114.28,193.12 L114.89,193.80 L115.50,194.47 L116.12,195.12 L116.74,195.77 L117.37,196.41 L117.99,197.04 L118.62,197.66 L119.26,198.26 L119.90,198.86 L120.54,199.45 L121.18,200.03 L121.83,200.60 L122.48,201.16 L123.13,201.71 L123.79,202.25 L124.45,202.79 L125.12,203.31 L125.78,203.82 L126.46,204.33 L127.13,204.83 L127.81,205.31 L128.49,205.79 L129.17,206.26 L129.86,206.72 L130.55,207.18 L131.25,207.62 L131.95,208.06 L132.65,208.49 L133.35,208.91 L134.06,209.32 L134.77,209.73 L135.49,210.13 L136.21,210.51 L136.93,210.90 L137.66,211.27 L138.38,211.64 L139.12,212.00 L139.85,212.35 L140.59,212.70 L141.33,213.03 L142.08,213.37 L142.83,213.69 L143.58,214.01 L144.34,214.32 L145.09,214.62 L145.86,214.92 L146.62,215.21 L147.39,215.50 L148.16,215.78 L148.94,216.05 L149.72,216.32 L150.50,216.58 L151.29,216.84 L152.08,217.09 L152.87,217.33 L153.67,217.57 L154.47,217.80 L155.27,218.03 L156.08,218.25 L156.89,218.47 L157.70,218.68 L158.52,218.89 L159.34,219.09 L160.16,219.29 L160.99,219.49 L161.82,219.67 L162.65,219.86 L163.49,220.04 L164.33,220.21 L165.17,220.38 L166.02,220.55 L166.87,220.71 L167.72,220.87 L168.58,221.03 L169.44,221.18 L170.31,221.32 L171.17,221.47 L172.04,221.60 L172.92,221.74 L173.80,221.87 L174.68,222.00 L175.56,222.13 L176.45,222.25 L177.34,222.37 L178.23,222.48 L179.13,222.59 L180.03,222.70 L180.94,222.81 L181.84,222.91 L182.76,223.01 L183.67,223.11 L184.59,223.21 L185.51,223.30 L186.44,223.39 L187.36,223.48 L188.30,223.56 L189.23,223.64 L190.17,223.72 L191.11,223.80 L192.06,223.87 L193.00,223.95 L193.96,224.02 L194.91,224.09 L195.87,224.15 L196.83,224.22 L197.80,224.28 L198.77,224.34 L199.74,224.40 L200.71,224.46 L201.69,224.51 L202.67,224.57 L203.66,224.62 L204.65,224.67 L205.64,224.72 L206.64,224.77 L207.64,224.81 L208.64,224.86 L209.65,224.90 L210.66,224.94 L211.67,224.98 L212.68,225.02 L213.70,225.06 L214.73,225.09 L215.75,225.13 L216.78,225.16 L217.82,225.19 L218.85,225.23 L219.89,225.26 L220.94,225.29 L221.98,225.31 L223.03,225.34 L224.08,225.37 L225.14,225.39 L226.20,225.42 L227.27,225.44 L228.33,225.47 L229.40,225.49 L230.48,225.51 L231.55,225.53 L232.63,225.55 L233.72,225.57 L234.80,225.59 L235.89,225.60 L236.99,225.62 L238.09,225.64 L239.19,225.65 L240.29,225.67 L241.40,225.68 L242.51,225.70 L243.62,225.71 L244.74,225.72 L245.86,225.74 L246.99,225.75 L248.11,225.76 L249.25,225.77 L250.38,225.78 L251.52,225.79 L252.66,225.80 L253.80,225.81 L254.95,225.82 L256.10,225.83 L257.26,225.84 L258.42,225.84 L259.58,225.85 L260.74,225.86 L261.91,225.87 L263.08,225.87 L264.26,225.88 L265.44,225.88 L266.62,225.89 L267.80,225.90 L268.99,225.90 L270.18,225.91 L271.38,225.91 L272.58,225.92 L273.78,225.92 L274.99,225.92 L276.19,225.93 L277.41,225.93 L278.62,225.94 L279.84,225.94 L281.06,225.94 L282.29,225.95 L283.52,225.95 L284.75,225.95 L285.99,225.95 L287.23,225.96 L288.47,225.96 L289.72,225.96 L290.96,225.96 L292.22,225.97 L293.47,225.97 L294.73,225.97 L296.00,225.97 L297.26,225.97 L298.53,225.97 L299.81,225.98 L301.08,225.98 L302.36,225.98 L303.65,225.98 L304.93,225.98 L306.22,225.98 L307.52,225.98 L308.81,225.98 L310.11,225.99 L311.42,225.99 L312.72,225.99 L314.03,225.99 L315.35,225.99 L316.66,225.99 L317.98,225.99 L319.31,225.99 L320.64,225.99 L321.97,225.99 L323.30,225.99 L324.64,225.99 L325.98,225.99 L327.32,225.99 L328.67,225.99 L330.02,226.00 L331.38,226.00 L332.73,226.00 L334.09,226.00 L335.46,226.00 L336.83,226.00 L338.20,226.00 L339.57,226.00 L340.95,226.00 L342.33,226.00 L343.72,226.00 L345.10,226.00 L346.50,226.00 L347.89,226.00 L349.29,226.00 L350.69,226.00 L352.10,226.00 L353.50,226.00 L354.92,226.00 L356.33,226.00 L357.75,226.00 L359.17,226.00 L360.60,226.00 L362.03,226.00 L363.46,226.00 L364.89,226.00 L366.33,226.00 L367.77,226.00 L369.22,226.00 L370.67,226.00 L372.12,226.00 L373.58,226.00 L375.04,226.00 L376.50,226.00 L377.96,226.00 L379.43,226.00 L380.91,226.00 L382.38,226.00 L383.86,226.00 L385.34,226.00 L386.83,226.00 L388.32,226.00 L389.81,226.00 L391.31,226.00 L392.81,226.00 L394.31,226.00 L395.82,226.00 L397.33,226.00 L398.84,226.00 L400.36,226.00 L401.88,226.00 L403.40,226.00 L404.93,226.00 L406.46,226.00 L407.99,226.00 L409.53,226.00 L411.07,226.00 L412.61,226.00 L414.16,226.00 L415.71,226.00 L417.26,226.00 L418.82,226.00 L420.38,226.00 L421.95,226.00 L423.51,226.00 L425.08,226.00 L426.66,226.00 L428.24,226.00 L429.82,226.00 L431.40,226.00 L432.99,226.00 L434.58,226.00 L436.17,226.00 L437.77,226.00 L439.37,226.00 L440.98,226.00 L442.58,226.00 L444.20,226.00 L445.81,226.00 L447.43,226.00 L449.05,226.00 L450.68,226.00 L452.30,226.00 L453.93,226.00 L455.57,226.00 L457.21,226.00 L458.85,226.00 L460.49,226.00 L462.14,226.00 L463.80,226.00 L465.45,226.00 L467.11,226.00 L468.77,226.00 L470.44,226.00 L472.11,226.00 L473.78,226.00 L475.45,226.00 L477.13,226.00 L478.81,226.00 L480.50,226.00" fill="none" stroke="#ff00ff" stroke-width="1.65" stroke-dasharray="6.6,4.95" stroke-linecap="butt" stroke-linejoin="round"/>
<path d="M59.50,14.50 L59.50,14.51 L59.51,14.55 L59.52,14.60 L59.53,14.68 L59.54,14.79 L59.56,14.91 L59.58,15.06 L59.61,15.23 L59.64,15.42 L59.67,15.64 L59.70,15.88 L59.74,16.14 L59.79,16.42 L59.83,16.73 L59.88,17.06 L59.93,17.41 L59.99,17.78 L60.05,18.18 L60.11,18.60 L60.18,19.04 L60.25,19.50 L60.32,19.98 L60.39,20.49 L60.47,21.01 L60.56,21.56 L60.64,22.13 L60.73,22.72 L60.83,23.33 L60.92,23.96 L61.02,24.61 L61.12,25.28 L61.23,25.98 L61.34,26.69 L61.45,27.42 L61.57,28.17 L61.69,28.94 L61.81,29.73 L61.94,30.53 L62.07,31.36 L62.21,32.20 L62.34,33.06 L62.48,33.93 L62.63,34.82 L62.77,35.73 L62.92,36.66 L63.08,37.59 L63.23,38.55 L63.40,39.51 L63.56,40.49 L63.73,41.48 L63.90,42.49 L64.07,43.50 L64.25,44.53 L64.43,45.57 L64.61,46.61 L64.80,47.66 L64.99,48.72 L65.19,49.79 L65.39,50.86 L65.59,51.94 L65.79,53.02 L66.00,54.11 L66.21,55.19 L66.43,56.28 L66.64,57.38 L66.86,58.49 L67.09,59.61 L67.32,60.74 L67.55,61.87 L67.78,63.01 L68.02,64.16 L68.26,65.32 L68.51,66.48 L68.76,67.65 L69.01,68.82 L69.27,70.00 L69.52,71.19 L69.79,72.38 L70.05,73.58 L70.32,74.78 L70.59,75.98 L70.87,77.19 L71.15,78.40 L71.43,79.62 L71.72,80.83 L72.00,82.05 L72.30,83.28 L72.59,84.50 L72.89,85.73 L73.20,86.96 L73.50,88.19 L73.81,89.42 L74.12,90.65 L74.44,91.88 L74.76,93.11 L75.08,94.35 L75.41,95.58 L75.74,96.81 L76.07,98.04 L76.41,99.27 L76.75,100.50 L77.09,101.74 L77.44,102.96 L77.79,104.19 L78.14,105.42 L78.50,106.64 L78.86,107.85 L79.22,109.06 L79.59,110.26 L79.96,111.45 L80.33,112.63 L80.71,113.79 L81.09,114.94 L81.47,116.07 L81.86,117.18 L82.25,118.27 L82.64,119.34 L83.04,120.39 L83.44,121.42 L83.85,122.45 L84.25,123.48 L84.67,124.49 L85.08,125.50 L85.50,126.51 L85.92,127.50 L86.34,128.50 L86.77,129.48 L87.20,130.46 L87.64,131.43 L88.07,132.40 L88.52,133.37 L88.96,134.32 L89.41,135.28 L89.86,136.22 L90.31,137.17 L90.77,138.10 L91.23,139.04 L91.70,139.97 L92.17,140.90 L92.64,141.82 L93.11,142.74 L93.59,143.66 L94.07,144.57 L94.56,145.49 L95.05,146.40 L95.54,147.31 L96.04,148.23 L96.53,149.14 L97.04,150.05 L97.54,150.96 L98.05,151.86 L98.56,152.75 L99.08,153.63 L99.60,154.49 L100.12,155.36 L100.65,156.21 L101.18,157.06 L101.71,157.90 L102.24,158.74 L102.78,159.58 L103.33,160.41 L103.87,161.25 L104.42,162.08 L104.97,162.92 L105.53,163.76 L106.09,164.62 L106.65,165.49 L107.22,166.38 L107.79,167.28 L108.36,168.18 L108.94,169.08 L109.52,169.98 L110.10,170.87 L110.69,171.74 L111.28,172.60 L111.87,173.44 L112.47,174.25 L113.07,175.02 L113.67,175.76 L114.28,176.46 L114.89,177.11 L115.50,177.70 L116.12,178.25 L116.74,178.78 L117.37,179.29 L117.99,179.77 L118.62,180.23 L119.26,180.68 L119.90,181.12 L120.54,181.54 L121.18,181.95 L121.83,182.36 L122.48,182.76 L123.13,183.16 L123.79,183.56 L124.45,183.97 L125.12,184.39 L125.78,184.82 L126.46,185.25 L127.13,185.70 L127.81,186.15 L128.49,186.60 L129.17,187.05 L129.86,187.50 L130.55,187.94 L131.25,188.37 L131.95,188.80 L132.65,189.21 L133.35,189.61 L134.06,189.99 L134.77,190.35 L135.49,190.68 L136.21,190.98 L136.93,191.27 L137.66,191.55 L138.38,191.80 L139.12,192.05 L139.85,192.29 L140.59,192.53 L141.33,192.75 L142.08,192.98 L142.83,193.21 L143.58,193.44 L144.34,193.68 L145.09,193.92 L145.86,194.18 L146.62,194.43 L147.39,194.69 L148.16,194.96 L148.94,195.22 L149.72,195.49 L150.50,195.75 L151.29,196.02 L152.08,196.29 L152.87,196.55 L153.67,196.82 L154.47,197.08 L155.27,197.33 L156.08,197.59 L156.89,197.83 L157.70,198.08 L158.52,198.31 L159.34,198.54 L160.16,198.76 L160.99,198.98 L161.82,199.19 L162.65,199.40 L163.49,199.61 L164.33,199.81 L165.17,200.01 L166.02,200.21 L166.87,200.40 L167.72,200.59 L168.58,200.77 L169.44,200.95 L170.31,201.12 L171.17,201.28 L172.04,201.44 L172.92,201.59 L173.80,201.74 L174.68,201.89 L175.56,202.03 L176.45,202.18 L177.34,202.31 L178.23,202.45 L179.13,202.58 L180.03,202.71 L180.94,202.83 L181.84,202.95 L182.76,203.06 L183.67,203.17 L184.59,203.27 L185.51,203.37 L186.44,203.68 L187.36,204.05 L188.30,204.42 L189.23,204.79 L190.17,205.15 L191.11,205.51 L192.06,205.88 L193.00,206.23 L193.96,206.59 L194.91,206.95 L195.87,207.30 L196.83,207.65 L197.80,207.99 L198.77,208.34 L199.74,208.69 L200.71,209.04 L201.69,209.39 L202.67,209.73 L203.66,210.07 L204.65,210.41 L205.64,210.73 L206.64,211.06 L207.64,211.37 L208.64,211.68 L209.65,211.98 L210.66,212.28 L211.67,212.57 L212.68,212.86 L213.70,213.15 L214.73,213.43 L215.75,213.71 L216.78,213.99 L217.82,214.26 L218.85,214.53 L219.89,214.80 L220.94,215.05 L221.98,215.31 L223.03,215.56 L224.08,215.80 L225.14,216.04 L226.20,216.27 L227.27,216.50 L228.33,216.72 L229.40,216.94 L230.48,217.16 L231.55,217.38 L232.63,217.59 L233.72,217.79 L234.80,218.00 L235.89,218.19 L236.99,218.39 L238.09,218.57 L239.19,218.76 L240.29,218.93 L241.40,219.10 L242.51,219.27 L243.62,219.42 L244.74,219.57 L245.86,219.72 L246.99,219.86 L248.11,220.00 L249.25,220.13 L250.38,220.26 L251.52,220.39 L252.66,220.51 L253.80,220.64 L254.95,220.76 L256.10,220.88 L257.26,221.01 L258.42,221.13 L259.58,221.26 L260.74,221.39 L261.91,221.53 L263.08,221.66 L264.26,221.80 L265.44,221.93 L266.62,222.06 L267.80,222.19 L268.99,222.32 L270.18,222.44 L271.38,222.56 L272.58,222.67 L273.78,222.77 L274.99,222.87 L276.19,222.95 L277.41,223.03 L278.62,223.11 L279.84,223.18 L281.06,223.25 L282.29,223.32 L283.52,223.38 L284.75,223.44 L285.99,223.50 L287.23,223.56 L288.47,223.62 L289.72,223.68 L290.96,223.74 L292.22,223.80 L293.47,223.86 L294.73,223.92 L296.00,223.98 L297.26,224.04 L298.53,224.09 L299.81,224.15 L301.08,224.21 L302.36,224.27 L303.65,224.32 L304.93,224.38 L306.22,224.43 L307.52,224.48 L308.81,224.54 L310.11,224.59 L311.42,224.64 L312.72,224.69 L314.03,224.73 L315.35,224.78 L316.66,224.82 L317.98,224.87 L319.31,224.91 L320.64,224.95 L321.97,224.98 L323.30,225.02 L324.64,225.06 L325.98,225.10 L327.32,225.13 L328.67,225.17 L330.02,225.20 L331.38,225.24 L332.73,225.27 L334.09,225.31 L335.46,225.34 L336.83,225.37 L338.20,225.40 L339.57,225.43 L340.95,225.46 L342.33,225.49 L343.72,225.52 L345.10,225.55 L346.50,225.57 L347.89,225.59 L349.29,225.62 L350.69,225.64 L352.10,225.66 L353.50,225.67 L354.92,225.69 L356.33,225.71 L357.75,225.72 L359.17,225.74 L360.60,225.76 L362.03,225.77 L363.46,225.79 L364.89,225.80 L366.33,225.82 L367.77,225.83 L369.22,225.85 L370.67,225.86 L372.12,225.87 L373.58,225.89 L375.04,225.90 L376.50,225.91 L377.96,225.92 L379.43,225.93 L380.91,225.94 L382.38,225.95 L383.86,225.96 L385.34,225.97 L386.83,225.98 L388.32,225.98 L389.81,225.99 L391.31,225.99 L392.81,226.00 L394.31,226.00 L395.82,226.00 L397.33,226.00 L398.84,226.00 L400.36,226.00 L401.88,226.00 L403.40,226.00 L404.93,226.00 L406.46,226.00 L407.99,226.00 L409.53,226.00 L411.07,226.00 L412.61,226.00 L414.16,226.00 L415.71,226.00 L417.26,226.00 L418.82,226.00 L420.38,226.00 L421.95,226.00 L423.51,226.00 L425.08,226.00 L426.66,226.00 L428.24,226.00 L429.82,226.00 L431.40,226.00 L432.99,226.00 L434.58,226.00 L436.17,226.00 L437.77,226.00 L439.37,226.00 L440.98,226.00 L442.58,226.00 L444.20,226.00 L445.81,226.00 L447.43,226.00 L449.05,226.00 L450.68,226.00 L452.30,226.00 L453.93,226.00 L455.57,226.00 L457.21,226.00 L458.85,226.00 L460.49,226.00 L462.14,226.00 L463.80,226.00 L465.45,226.00 L467.11,226.00 L468.77,226.00 L470.44,226.00 L472.11,226.00 L473.78,226.00 L475.45,226.00 L477.13,226.00 L478.81,226.00 L480.50,226.00" fill="none" stroke="#00ffff" stroke-width="1.65" stroke-linecap="butt" stroke-linejoin="round"/>
<path d="M59.50,14.50 L59.50,14.50 L59.51,14.51 L59.52,14.52 L59.53,14.54 L59.54,14.56 L59.56,14.59 L59.58,14.62 L59.61,14.66 L59.64,14.71 L59.67,14.75 L59.70,14.81 L59.74,14.87 L59.79,14.93 L59.83,15.00 L59.88,15.07 L59.93,15.15 L59.99,15.24 L60.05,15.32 L60.11,15.42 L60.18,15.52 L60.25,15.62 L60.32,15.73 L60.39,15.85 L60.47,15.96 L60.56,16.09 L60.64,16.22 L60.73,16.35 L60.83,16.49 L60.92,16.64 L61.02,16.79 L61.12,16.94 L61.23,17.10 L61.34,17.26 L61.45,17.43 L61.57,17.61 L61.69,17.79 L61.81,17.97 L61.94,18.16 L62.07,18.35 L62.21,18.55 L62.34,18.75 L62.48,18.96 L62.63,19.18 L62.77,19.40 L62.92,19.62 L63.08,19.85 L63.23,20.08 L63.40,20.32 L63.56,20.56 L63.73,20.81 L63.90,21.06 L64.07,21.32 L64.25,21.58 L64.43,21.84 L64.61,22.11 L64.80,22.39 L64.99,22.67 L65.19,22.96 L65.39,23.25 L65.59,23.54 L65.79,23.84 L66.00,24.14 L66.21,24.45 L66.43,24.77 L66.64,25.08 L66.86,25.41 L67.09,25.73 L67.32,26.07 L67.55,26.40 L67.78,26.74 L68.02,27.09 L68.26,27.44 L68.51,27.79 L68.76,28.15 L69.01,28.51 L69.27,28.88 L69.52,29.25 L69.79,29.63 L70.05,30.01 L70.32,30.39 L70.59,30.78 L70.87,31.18 L71.15,31.57 L71.43,31.98 L71.72,32.38 L72.00,32.79 L72.30,33.21 L72.59,33.63 L72.89,34.05 L73.20,34.48 L73.50,34.91 L73.81,35.34 L74.12,35.78 L74.44,36.23 L74.76,36.67 L75.08,37.13 L75.41,37.58 L75.74,38.04 L76.07,38.50 L76.41,38.97 L76.75,39.44 L77.09,39.92 L77.44,40.40 L77.79,40.88 L78.14,41.37 L78.50,41.86 L78.86,42.35 L79.22,42.85 L79.59,43.35 L79.96,43.86 L80.33,44.37 L80.71,44.88 L81.09,45.40 L81.47,45.92 L81.86,46.44 L82.25,46.97 L82.64,47.50 L83.04,48.03 L83.44,48.57 L83.85,49.11 L84.25,49.66 L84.67,50.21 L85.08,50.76 L85.50,51.31 L85.92,51.87 L86.34,52.43 L86.77,52.99 L87.20,53.56 L87.64,54.13 L88.07,54.71 L88.52,55.28 L88.96,55.87 L89.41,56.45 L89.86,57.03 L90.31,57.62 L90.77,58.22 L91.23,58.81 L91.70,59.41 L92.17,60.01 L92.64,60.62 L93.11,61.22 L93.59,61.83 L94.07,62.45 L94.56,63.06 L95.05,63.68 L95.54,64.30 L96.04,64.92 L96.53,65.55 L97.04,66.18 L97.54,66.81 L98.05,67.44 L98.56,68.08 L99.08,68.72 L99.60,69.36 L100.12,70.00 L100.65,70.65 L101.18,71.30 L101.71,71.95 L102.24,72.60 L102.78,73.26 L103.33,73.91 L103.87,74.57 L104.42,75.24 L104.97,75.90 L105.53,76.57 L106.09,77.23 L106.65,77.90 L107.22,78.58 L107.79,79.25 L108.36,79.93 L108.94,80.60 L109.52,81.28 L110.10,81.97 L110.69,82.65 L111.28,83.33 L111.87,84.02 L112.47,84.71 L113.07,85.40 L113.67,86.09 L114.28,86.78 L114.89,87.48 L115.50,88.18 L116.12,88.87 L116.74,89.57 L117.37,90.27 L117.99,90.98 L118.62,91.68 L119.26,92.38 L119.90,93.09 L120.54,93.80 L121.18,94.51 L121.83,95.22 L122.48,95.93 L123.13,96.64 L123.79,97.35 L124.45,98.06 L125.12,98.78 L125.78,99.50 L126.46,100.21 L127.13,100.93 L127.81,101.65 L128.49,102.37 L129.17,103.09 L129.86,103.81 L130.55,104.53 L131.25,105.25 L131.95,105.98 L132.65,106.70 L133.35,107.42 L134.06,108.15 L134.77,108.87 L135.49,109.60 L136.21,110.32 L136.93,111.05 L137.66,111.78 L138.38,112.50 L139.12,113.23 L139.85,113.96 L140.59,114.68 L141.33,115.41 L142.08,116.14 L142.83,116.87 L143.58,117.60 L144.34,118.32 L145.09,119.05 L145.86,119.78 L146.62,120.51 L147.39,121.23 L148.16,121.96 L148.94,122.69 L149.72,123.42 L150.50,124.14 L151.29,124.87 L152.08,125.59 L152.87,126.32 L153.67,127.05 L154.47,127.77 L155.27,128.49 L156.08,129.22 L156.89,129.94 L157.70,130.66 L158.52,131.38 L159.34,132.11 L160.16,132.83 L160.99,133.55 L161.82,134.26 L162.65,134.98 L163.49,135.70 L164.33,136.42 L165.17,137.13 L166.02,137.85 L166.87,138.56 L167.72,139.27 L168.58,139.98 L169.44,140.69 L170.31,141.40 L171.17,142.11 L172.04,142.81 L172.92,143.52 L173.80,144.22 L174.68,144.93 L175.56,145.63 L176.45,146.33 L177.34,147.03 L178.23,147.72 L179.13,148.42 L180.03,149.11 L180.94,149.80 L181.84,150.50 L182.76,151.18 L183.67,151.87 L184.59,152.56 L185.51,153.24 L186.44,153.92 L187.36,154.60 L188.30,155.28 L189.23,155.96 L190.17,156.63 L191.11,157.31 L192.06,157.98 L193.00,158.65 L193.96,159.31 L194.91,159.98 L195.87,160.64 L196.83,161.30 L197.80,161.96 L198.77,162.62 L199.74,163.27 L200.71,163.92 L201.69,164.57 L202.67,165.22 L203.66,165.86 L204.65,166.50 L205.64,167.14 L206.64,167.78 L207.64,168.42 L208.64,169.05 L209.65,169.68 L210.66,170.31 L211.67,170.93 L212.68,171.55 L213.70,172.17 L214.73,172.79 L215.75,173.40 L216.78,174.01 L217.82,174.62 L218.85,175.23 L219.89,175.83 L220.94,176.43 L221.98,177.03 L223.03,177.62 L224.08,178.21 L225.14,178.80 L226.20,179.39 L227.27,179.97 L228.33,180.55 L229.40,181.13 L230.48,181.70 L231.55,182.27 L232.63,182.84 L233.72,183.40 L234.80,183.96 L235.89,184.52 L236.99,185.07 L238.09,185.62 L239.19,186.17 L240.29,186.71 L241.40,187.26 L242.51,187.79 L243.62,188.33 L244.74,188.86 L245.86,189.38 L246.99,189.91 L248.11,190.43 L249.25,190.95 L250.38,191.46 L251.52,191.97 L252.66,192.48 L253.80,192.98 L254.95,193.48 L256.10,193.97 L257.26,194.46 L258.42,194.95 L259.58,195.44 L260.74,195.92 L261.91,196.40 L263.08,196.87 L264.26,197.34 L265.44,197.81 L266.62,198.27 L267.80,198.73 L268.99,199.18 L270.18,199.63 L271.38,200.08 L272.58,200.52 L273.78,200.96 L274.99,201.40 L276.19,201.83 L277.41,202.26 L278.62,202.68 L279.84,203.10 L281.06,203.52 L282.29,203.93 L283.52,204.34 L284.75,204.74 L285.99,205.14 L287.23,205.54 L288.47,205.93 L289.72,206.32 L290.96,206.70 L292.22,207.08 L293.47,207.46 L294.73,207.83 L296.00,208.20 L297.26,208.56 L298.53,208.92 L299.81,209.28 L301.08,209.63 L302.36,209.98 L303.65,210.32 L304.93,210.66 L306.22,211.00 L307.52,211.33 L308.81,211.66 L310.11,211.98 L311.42,212.30 L312.72,212.61 L314.03,212.92 L315.35,213.23 L316.66,213.54 L317.98,213.83 L319.31,214.13 L320.64,214.42 L321.97,214.71 L323.30,214.99 L324.64,215.27 L325.98,215.54 L327.32,215.81 L328.67,216.08 L330.02,216.34 L331.38,216.60 L332.73,216.85 L334.09,217.11 L335.46,217.35 L336.83,217.59 L338.20,217.83 L339.57,218.07 L340.95,218.30 L342.33,218.52 L343.72,218.75 L345.10,218.96 L346.50,219.18 L347.89,219.39 L349.29,219.60 L350.69,219.80 L352.10,220.00 L353.50,220.19 L354.92,220.39 L356.33,220.57 L357.75,220.76 L359.17,220.94 L360.60,221.11 L362.03,221.29 L363.46,221.46 L364.89,221.62 L366.33,221.78 L367.77,221.94 L369.22,222.09 L370.67,222.24 L372.12,222.39 L373.58,222.54 L375.04,222.68 L376.50,222.81 L377.96,222.94 L379.43,223.07 L380.91,223.20 L382.38,223.32 L383.86,223.44 L385.34,223.56 L386.83,223.67 L388.32,223.78 L389.81,223.89 L391.31,223.99 L392.81,224.09 L394.31,224.19 L395.82,224.28 L397.33,224.37 L398.84,224.46 L400.36,224.54 L401.88,224.62 L403.40,224.70 L404.93,224.78 L406.46,224.85 L407.99,224.92 L409.53,224.99 L411.07,225.05 L412.61,225.11 L414.16,225.17 L415.71,225.23 L417.26,225.28 L418.82,225.33 L420.38,225.38 L421.95,225.43 L423.51,225.48 L425.08,225.52 L426.66,225.56 L428.24,225.60 L429.82,225.63 L431.40,225.66 L432.99,225.70 L434.58,225.73 L436.17,225.75 L437.77,225.78 L439.37,225.80 L440.98,225.83 L442.58,225.85 L444.20,225.86 L445.81,225.88 L447.43,225.90 L449.05,225.91 L450.68,225.92 L452.30,225.94 L453.93,225.95 L455.57,225.96 L457.21,225.96 L458.85,225.97 L460.49,225.98 L462.14,225.98 L463.80,225.99 L465.45,225.99 L467.11,225.99 L468.77,226.00 L470.44,226.00 L472.11,226.00 L473.78,226.00 L475.45,226.00 L477.13,226.00 L478.81,226.00 L480.50,226.00" fill="none" stroke="#000000" stroke-width="1.65" stroke-linecap="butt" stroke-linejoin="round"/>
<path d="M59.50,14.50 L59.50,14.50 L59.51,14.52 L59.52,14.54 L59.53,14.57 L59.54,14.61 L59.56,14.65 L59.58,14.71 L59.61,14.77 L59.64,14.84 L59.67,14.92 L59.70,15.01 L59.74,15.11 L59.79,15.22 L59.83,15.33 L59.88,15.45 L59.93,15.58 L59.99,15.72 L60.05,15.87 L60.11,16.03 L60.18,16.19 L60.25,16.37 L60.32,16.55 L60.39,16.74 L60.47,16.93 L60.56,17.14 L60.64,17.36 L60.73,17.58 L60.83,17.81 L60.92,18.05 L61.02,18.29 L61.12,18.55 L61.23,18.81 L61.34,19.08 L61.45,19.36 L61.57,19.65 L61.69,19.95 L61.81,20.25 L61.94,20.56 L62.07,20.88 L62.21,21.21 L62.34,21.54 L62.48,21.89 L62.63,22.24 L62.77,22.60 L62.92,22.96 L63.08,23.34 L63.23,23.72 L63.40,24.11 L63.56,24.50 L63.73,24.91 L63.90,25.32 L64.07,25.74 L64.25,26.16 L64.43,26.60 L64.61,27.04 L64.80,27.49 L64.99,27.94 L65.19,28.41 L65.39,28.88 L65.59,29.35 L65.79,29.84 L66.00,30.33 L66.21,30.83 L66.43,31.33 L66.64,31.84 L66.86,32.36 L67.09,32.89 L67.32,33.42 L67.55,33.96 L67.78,34.51 L68.02,35.06 L68.26,35.62 L68.51,36.18 L68.76,36.76 L69.01,37.33 L69.27,37.92 L69.52,38.51 L69.79,39.11 L70.05,39.71 L70.32,40.32 L70.59,40.93 L70.87,41.56 L71.15,42.18 L71.43,42.82 L71.72,43.45 L72.00,44.10 L72.30,44.75 L72.59,45.41 L72.89,46.07 L73.20,46.73 L73.50,47.41 L73.81,48.08 L74.12,48.77 L74.44,49.46 L74.76,50.15 L75.08,50.85 L75.41,51.55 L75.74,52.26 L76.07,52.97 L76.41,53.69 L76.75,54.42 L77.09,55.14 L77.44,55.88 L77.79,56.61 L78.14,57.36 L78.50,58.10 L78.86,58.85 L79.22,59.61 L79.59,60.37 L79.96,61.13 L80.33,61.90 L80.71,62.67 L81.09,63.45 L81.47,64.23 L81.86,65.01 L82.25,65.80 L82.64,66.59 L83.04,67.38 L83.44,68.18 L83.85,68.98 L84.25,69.79 L84.67,70.59 L85.08,71.40 L85.50,72.22 L85.92,73.04 L86.34,73.86 L86.77,74.68 L87.20,75.51 L87.64,76.34 L88.07,77.17 L88.52,78.01 L88.96,78.84 L89.41,79.68 L89.86,80.53 L90.31,81.37 L90.77,82.22 L91.23,83.07 L91.70,83.92 L92.17,84.77 L92.64,85.63 L93.11,86.49 L93.59,87.34 L94.07,88.21 L94.56,89.07 L95.05,89.93 L95.54,90.80 L96.04,91.67 L96.53,92.54 L97.04,93.41 L97.54,94.28 L98.05,95.15 L98.56,96.03 L99.08,96.90 L99.60,97.78 L100.12,98.65 L100.65,99.53 L101.18,100.41 L101.71,101.29 L102.24,102.17 L102.78,103.05 L103.33,103.93 L103.87,104.81 L104.42,105.69 L104.97,106.57 L105.53,107.46 L106.09,108.34 L106.65,109.22 L107.22,110.10 L107.79,110.98 L108.36,111.87 L108.94,112.75 L109.52,113.63 L110.10,114.51 L110.69,115.39 L111.28,116.27 L111.87,117.15 L112.47,118.03 L113.07,118.90 L113.67,119.78 L114.28,120.66 L114.89,121.53 L115.50,122.41 L116.12,123.28 L116.74,124.15 L117.37,125.02 L117.99,125.89 L118.62,126.76 L119.26,127.62 L119.90,128.49 L120.54,129.35 L121.18,130.21 L121.83,131.07 L122.48,131.93 L123.13,132.79 L123.79,133.64 L124.45,134.50 L125.12,135.35 L125.78,136.19 L126.46,137.04 L127.13,137.89 L127.81,138.73 L128.49,139.57 L129.17,140.40 L129.86,141.24 L130.55,142.07 L131.25,142.90 L131.95,143.73 L132.65,144.55 L133.35,145.38 L134.06,146.20 L134.77,147.01 L135.49,147.83 L136.21,148.64 L136.93,149.44 L137.66,150.25 L138.38,151.05 L139.12,151.85 L139.85,152.64 L140.59,153.44 L141.33,154.23 L142.08,155.01 L142.83,155.79 L143.58,156.57 L144.34,157.35 L145.09,158.12 L145.86,158.89 L146.62,159.65 L147.39,160.41 L148.16,161.17 L148.94,161.92 L149.72,162.67 L150.50,163.42 L151.29,164.16 L152.08,164.90 L152.87,165.63 L153.67,166.36 L154.47,167.09 L155.27,167.81 L156.08,168.53 L156.89,169.24 L157.70,169.95 L158.52,170.66 L159.34,171.36 L160.16,172.06 L160.99,172.75 L161.82,173.44 L162.65,174.12 L163.49,174.80 L164.33,175.47 L165.17,176.14 L166.02,176.81 L166.87,177.47 L167.72,178.13 L168.58,178.78 L169.44,179.43 L170.31,180.07 L171.17,180.71 L172.04,181.35 L172.92,181.97 L173.80,182.60 L174.68,183.22 L175.56,183.83 L176.45,184.44 L177.34,185.05 L178.23,185.65 L179.13,186.25 L180.03,186.84 L180.94,187.42 L181.84,188.00 L182.76,188.58 L183.67,189.15 L184.59,189.72 L185.51,190.28 L186.44,190.83 L187.36,191.39 L188.30,191.93 L189.23,192.47 L190.17,193.01 L191.11,193.54 L192.06,194.07 L193.00,194.59 L193.96,195.11 L194.91,195.62 L195.87,196.13 L196.83,196.63 L197.80,197.12 L198.77,197.61 L199.74,198.10 L200.71,198.58 L201.69,199.06 L202.67,199.53 L203.66,200.00 L204.65,200.46 L205.64,200.91 L206.64,201.36 L207.64,201.81 L208.64,202.25 L209.65,202.69 L210.66,203.12 L211.67,203.55 L212.68,203.97 L213.70,204.38 L214.73,204.79 L215.75,205.20 L216.78,205.60 L217.82,206.00 L218.85,206.39 L219.89,206.78 L220.94,207.16 L221.98,207.53 L223.03,207.91 L224.08,208.27 L225.14,208.64 L226.20,208.99 L227.27,209.35 L228.33,209.69 L229.40,210.04 L230.48,210.38 L231.55,210.71 L232.63,211.04 L233.72,211.36 L234.80,211.68 L235.89,212.00 L236.99,212.31 L238.09,212.61 L239.19,212.91 L240.29,213.21 L241.40,213.50 L242.51,213.79 L243.62,214.07 L244.74,214.35 L245.86,214.63 L246.99,214.90 L248.11,215.16 L249.25,215.42 L250.38,215.68 L251.52,215.93 L252.66,216.18 L253.80,216.43 L254.95,216.67 L256.10,216.90 L257.26,217.13 L258.42,217.36 L259.58,217.58 L260.74,217.80 L261.91,218.02 L263.08,218.23 L264.26,218.44 L265.44,218.64 L266.62,218.84 L267.80,219.04 L268.99,219.23 L270.18,219.42 L271.38,219.60 L272.58,219.79 L273.78,219.96 L274.99,220.14 L276.19,220.31 L277.41,220.47 L278.62,220.64 L279.84,220.80 L281.06,220.95 L282.29,221.11 L283.52,221.26 L284.75,221.40 L285.99,221.55 L287.23,221.69 L288.47,221.82 L289.72,221.96 L290.96,222.09 L292.22,222.22 L293.47,222.34 L294.73,222.46 L296.00,222.58 L297.26,222.70 L298.53,222.81 L299.81,222.92 L301.08,223.03 L302.36,223.13 L303.65,223.23 L304.93,223.33 L306.22,223.43 L307.52,223.52 L308.81,223.61 L310.11,223.70 L311.42,223.79 L312.72,223.87 L314.03,223.96 L315.35,224.04 L316.66,224.11 L317.98,224.19 L319.31,224.26 L320.64,224.33 L321.97,224.40 L323.30,224.46 L324.64,224.53 L325.98,224.59 L327.32,224.65 L328.67,224.71 L330.02,224.77 L331.38,224.82 L332.73,224.87 L334.09,224.92 L335.46,224.97 L336.83,225.02 L338.20,225.07 L339.57,225.11 L340.95,225.15 L342.33,225.19 L343.72,225.23 L345.10,225.27 L346.50,225.31 L347.89,225.34 L349.29,225.38 L350.69,225.41 L352.10,225.44 L353.50,225.47 L354.92,225.50 L356.33,225.53 L357.75,225.55 L359.17,225.58 L360.60,225.60 L362.03,225.63 L363.46,225.65 L364.89,225.67 L366.33,225.69 L367.77,225.71 L369.22,225.73 L370.67,225.74 L372.12,225.76 L373.58,225.78 L375.04,225.79 L376.50,225.81 L377.96,225.82 L379.43,225.83 L380.91,225.84 L382.38,225.85 L383.86,225.87 L385.34,225.88 L386.83,225.88 L388.32,225.89 L389.81,225.90 L391.31,225.91 L392.81,225.92 L394.31,225.92 L395.82,225.93 L397.33,225.94 L398.84,225.94 L400.36,225.95 L401.88,225.95 L403.40,225.96 L404.93,225.96 L406.46,225.96 L407.99,225.97 L409.53,225.97 L411.07,225.97 L412.61,225.98 L414.16,225.98 L415.71,225.98 L417.26,225.98 L418.82,225.99 L420.38,225.99 L421.95,225.99 L423.51,225.99 L425.08,225.99 L426.66,225.99 L428.24,225.99 L429.82,225.99 L431.40,226.00 L432.99,226.00 L434.58,226.00 L436.17,226.00 L437.77,226.00 L439.37,226.00 L440.98,226.00 L442.58,226.00 L444.20,226.00 L445.81,226.00 L447.43,226.00 L449.05,226.00 L450.68,226.00 L452.30,226.00 L453.93,226.00 L455.57,226.00 L457.21,226.00 L458.85,226.00 L460.49,226.00 L462.14,226.00 L463.80,226.00 L465.45,226.00 L467.11,226.00 L468.77,226.00 L470.44,226.00 L472.11,226.00 L473.78,226.00 L475.45,226.00 L477.13,226.00 L478.81,226.00 L480.50,226.00" fill="none" stroke="#000000" stroke-width="1.65" stroke-dasharray="6.6,4.95" stroke-linecap="butt" stroke-linejoin="round"/>
<path d="M59.50,14.50 L59.50,14.51 L59.51,14.53 L59.52,14.58 L59.53,14.64 L59.54,14.71 L59.56,14.81 L59.58,14.92 L59.61,15.04 L59.64,15.19 L59.67,15.35 L59.70,15.53 L59.74,15.72 L59.79,15.93 L59.83,16.16 L59.88,16.40 L59.93,16.66 L59.99,16.94 L60.05,17.24 L60.11,17.55 L60.18,17.87 L60.25,18.22 L60.32,18.58 L60.39,18.95 L60.47,19.34 L60.56,19.75 L60.64,20.17 L60.73,20.61 L60.83,21.07 L60.92,21.54 L61.02,22.02 L61.12,22.52 L61.23,23.04 L61.34,23.57 L61.45,24.12 L61.57,24.68 L61.69,25.25 L61.81,25.84 L61.94,26.45 L62.07,27.07 L62.21,27.70 L62.34,28.35 L62.48,29.01 L62.63,29.69 L62.77,30.38 L62.92,31.08 L63.08,31.80 L63.23,32.53 L63.40,33.27 L63.56,34.03 L63.73,34.80 L63.90,35.58 L64.07,36.38 L64.25,37.18 L64.43,38.00 L64.61,38.83 L64.80,39.68 L64.99,40.53 L65.19,41.40 L65.39,42.28 L65.59,43.16 L65.79,44.06 L66.00,44.97 L66.21,45.89 L66.43,46.83 L66.64,47.77 L66.86,48.72 L67.09,49.68 L67.32,50.65 L67.55,51.63 L67.78,52.62 L68.02,53.62 L68.26,54.63 L68.51,55.64 L68.76,56.67 L69.01,57.70 L69.27,58.74 L69.52,59.79 L69.79,60.85 L70.05,61.91 L70.32,62.99 L70.59,64.06 L70.87,65.15 L71.15,66.24 L71.43,67.34 L71.72,68.45 L72.00,69.56 L72.30,70.67 L72.59,71.79 L72.89,72.92 L73.20,74.06 L73.50,75.19 L73.81,76.34 L74.12,77.48 L74.44,78.63 L74.76,79.79 L75.08,80.95 L75.41,82.11 L75.74,83.28 L76.07,84.45 L76.41,85.62 L76.75,86.80 L77.09,87.98 L77.44,89.16 L77.79,90.34 L78.14,91.53 L78.50,92.72 L78.86,93.91 L79.22,95.10 L79.59,96.29 L79.96,97.48 L80.33,98.67 L80.71,99.87 L81.09,101.06 L81.47,102.26 L81.86,103.46 L82.25,104.65 L82.64,105.85 L83.04,107.04 L83.44,108.23 L83.85,109.43 L84.25,110.62 L84.67,111.81 L85.08,113.00 L85.50,114.19 L85.92,115.37 L86.34,116.56 L86.77,117.74 L87.20,118.92 L87.64,120.10 L88.07,121.27 L88.52,122.44 L88.96,123.61 L89.41,124.78 L89.86,125.94 L90.31,127.10 L90.77,128.25 L91.23,129.40 L91.70,130.55 L92.17,131.70 L92.64,132.84 L93.11,133.97 L93.59,135.10 L94.07,136.23 L94.56,137.35 L95.05,138.46 L95.54,139.57 L96.04,140.68 L96.53,141.78 L97.04,142.88 L97.54,143.96 L98.05,145.05 L98.56,146.13 L99.08,147.20 L99.60,148.26 L100.12,149.32 L100.65,150.38 L101.18,151.42 L101.71,152.46 L102.24,153.50 L102.78,154.53 L103.33,155.55 L103.87,156.56 L104.42,157.57 L104.97,158.57 L105.53,159.56 L106.09,160.54 L106.65,161.52 L107.22,162.49 L107.79,163.45 L108.36,164.41 L108.94,165.36 L109.52,166.30 L110.10,167.23 L110.69,168.15 L111.28,169.07 L111.87,169.98 L112.47,170.88 L113.07,171.77 L113.67,172.65 L114.28,173.53 L114.89,174.40 L115.50,175.26 L116.12,176.11 L116.74,176.95 L117.37,177.79 L117.99,178.61 L118.62,179.43 L119.26,180.24 L119.90,181.04 L120.54,181.84 L121.18,182.62 L121.83,183.39 L122.48,184.16 L123.13,184.92 L123.79,185.67 L124.45,186.41 L125.12,187.14 L125.78,187.87 L126.46,188.58 L127.13,189.29 L127.81,189.99 L128.49,190.68 L129.17,191.36 L129.86,192.03 L130.55,192.70 L131.25,193.35 L131.95,194.00 L132.65,194.64 L133.35,195.27 L134.06,195.89 L134.77,196.50 L135.49,197.11 L136.21,197.70 L136.93,198.29 L137.66,198.87 L138.38,199.44 L139.12,200.00 L139.85,200.56 L140.59,201.10 L141.33,201.64 L142.08,202.17 L142.83,202.69 L143.58,203.21 L144.34,203.72 L145.09,204.21 L145.86,204.70 L146.62,205.19 L147.39,205.66 L148.16,206.13 L148.94,206.59 L149.72,207.04 L150.50,207.48 L151.29,207.92 L152.08,208.35 L152.87,208.77 L153.67,209.18 L154.47,209.59 L155.27,209.99 L156.08,210.38 L156.89,210.77 L157.70,211.15 L158.52,211.52 L159.34,211.88 L160.16,212.24 L160.99,212.59 L161.82,212.94 L162.65,213.27 L163.49,213.61 L164.33,213.93 L165.17,214.25 L166.02,214.56 L166.87,214.87 L167.72,215.16 L168.58,215.46 L169.44,215.75 L170.31,216.03 L171.17,216.30 L172.04,216.57 L172.92,216.84 L173.80,217.09 L174.68,217.35 L175.56,217.59 L176.45,217.83 L177.34,218.07 L178.23,218.30 L179.13,218.53 L180.03,218.75 L180.94,218.96 L181.84,219.17 L182.76,219.38 L183.67,219.58 L184.59,219.78 L185.51,219.97 L186.44,220.15 L187.36,220.34 L188.30,220.51 L189.23,220.69 L190.17,220.85 L191.11,221.02 L192.06,221.18 L193.00,221.34 L193.96,221.49 L194.91,221.64 L195.87,221.78 L196.83,221.92 L197.80,222.06 L198.77,222.19 L199.74,222.32 L200.71,222.45 L201.69,222.57 L202.67,222.69 L203.66,222.80 L204.65,222.92 L205.64,223.02 L206.64,223.13 L207.64,223.23 L208.64,223.33 L209.65,223.43 L210.66,223.52 L211.67,223.62 L212.68,223.70 L213.70,223.79 L214.73,223.87 L215.75,223.95 L216.78,224.03 L217.82,224.11 L218.85,224.18 L219.89,224.25 L220.94,224.32 L221.98,224.39 L223.03,224.45 L224.08,224.51 L225.14,224.57 L226.20,224.63 L227.27,224.69 L228.33,224.74 L229.40,224.80 L230.48,224.85 L231.55,224.89 L232.63,224.94 L233.72,224.99 L234.80,225.03 L235.89,225.07 L236.99,225.11 L238.09,225.15 L239.19,225.19 L240.29,225.23 L241.40,225.26 L242.51,225.30 L243.62,225.33 L244.74,225.36 L245.86,225.39 L246.99,225.42 L248.11,225.44 L249.25,225.47 L250.38,225.50 L251.52,225.52 L252.66,225.54 L253.80,225.57 L254.95,225.59 L256.10,225.61 L257.26,225.63 L258.42,225.65 L259.58,225.67 L260.74,225.68 L261.91,225.70 L263.08,225.71 L264.26,225.73 L265.44,225.74 L266.62,225.76 L267.80,225.77 L268.99,225.78 L270.18,225.80 L271.38,225.81 L272.58,225.82 L273.78,225.83 L274.99,225.84 L276.19,225.85 L277.41,225.86 L278.62,225.86 L279.84,225.87 L281.06,225.88 L282.29,225.89 L283.52,225.89 L284.75,225.90 L285.99,225.91 L287.23,225.91 L288.47,225.92 L289.72,225.92 L290.96,225.93 L292.22,225.93 L293.47,225.94 L294.73,225.94 L296.00,225.94 L297.26,225.95 L298.53,225.95 L299.81,225.96 L301.08,225.96 L302.36,225.96 L303.65,225.96 L304.93,225.97 L306.22,225.97 L307.52,225.97 L308.81,225.97 L310.11,225.98 L311.42,225.98 L312.72,225.98 L314.03,225.98 L315.35,225.98 L316.66,225.98 L317.98,225.98 L319.31,225.99 L320.64,225.99 L321.97,225.99 L323.30,225.99 L324.64,225.99 L325.98,225.99 L327.32,225.99 L328.67,225.99 L330.02,225.99 L331.38,225.99 L332.73,225.99 L334.09,225.99 L335.46,226.00 L336.83,226.00 L338.20,226.00 L339.57,226.00 L340.95,226.00 L342.33,226.00 L343.72,226.00 L345.10,226.00 L346.50,226.00 L347.89,226.00 L349.29,226.00 L350.69,226.00 L352.10,226.00 L353.50,226.00 L354.92,226.00 L356.33,226.00 L357.75,226.00 L359.17,226.00 L360.60,226.00 L362.03,226.00 L363.46,226.00 L364.89,226.00 L366.33,226.00 L367.77,226.00 L369.22,226.00 L370.67,226.00 L372.12,226.00 L373.58,226.00 L375.04,226.00 L376.50,226.00 L377.96,226.00 L379.43,226.00 L380.91,226.00 L382.38,226.00 L383.86,226.00 L385.34,226.00 L386.83,226.00 L388.32,226.00 L389.81,226.00 L391.31,226.00 L392.81,226.00 L394.31,226.00 L395.82,226.00 L397.33,226.00 L398.84,226.00 L400.36,226.00 L401.88,226.00 L403.40,226.00 L404.93,226.00 L406.46,226.00 L407.99,226.00 L409.53,226.00 L411.07,226.00 L412.61,226.00 L414.16,226.00 L415.71,226.00 L417.26,226.00 L418.82,226.00 L420.38,226.00 L421.95,226.00 L423.51,226.00 L425.08,226.00 L426.66,226.00 L428.24,226.00 L429.82,226.00 L431.40,226.00 L432.99,226.00 L434.58,226.00 L436.17,226.00 L437.77,226.00 L439.37,226.00 L440.98,226.00 L442.58,226.00 L444.20,226.00 L445.81,226.00 L447.43,226.00 L449.05,226.00 L450.68,226.00 L452.30,226.00 L453.93,226.00 L455.57,226.00 L457.21,226.00 L458.85,226.00 L460.49,226.00 L462.14,226.00 L463.80,226.00 L465.45,226.00 L467.11,226.00 L468.77,226.00 L470.44,226.00 L472.11,226.00 L473.78,226.00 L475.45,226.00 L477.13,226.00 L478.81,226.00 L480.50,226.00" fill="none" stroke="#000000" stroke-width="1.65" stroke-dasharray="4.95,1.65" stroke-linecap="butt" stroke-linejoin="round"/>
<path d="M59.50,14.50 L59.50,14.51 L59.51,14.55 L59.52,14.61 L59.53,14.70 L59.54,14.82 L59.56,14.96 L59.58,15.12 L59.61,15.31 L59.64,15.53 L59.67,15.77 L59.70,16.04 L59.74,16.33 L59.79,16.64 L59.83,16.98 L59.88,17.35 L59.93,17.74 L59.99,18.15 L60.05,18.59 L60.11,19.05 L60.18,19.54 L60.25,20.05 L60.32,20.58 L60.39,21.14 L60.47,21.72 L60.56,22.32 L60.64,22.95 L60.73,23.60 L60.83,24.27 L60.92,24.97 L61.02,25.68 L61.12,26.42 L61.23,27.18 L61.34,27.96 L61.45,28.76 L61.57,29.58 L61.69,30.42 L61.81,31.29 L61.94,32.17 L62.07,33.07 L62.21,33.99 L62.34,34.93 L62.48,35.89 L62.63,36.87 L62.77,37.87 L62.92,38.88 L63.08,39.91 L63.23,40.96 L63.40,42.03 L63.56,43.11 L63.73,44.21 L63.90,45.32 L64.07,46.45 L64.25,47.60 L64.43,48.76 L64.61,49.93 L64.80,51.12 L64.99,52.32 L65.19,53.54 L65.39,54.76 L65.59,56.00 L65.79,57.26 L66.00,58.52 L66.21,59.80 L66.43,61.09 L66.64,62.38 L66.86,63.69 L67.09,65.01 L67.32,66.34 L67.55,67.68 L67.78,69.02 L68.02,70.38 L68.26,71.74 L68.51,73.11 L68.76,74.49 L69.01,75.87 L69.27,77.26 L69.52,78.66 L69.79,80.06 L70.05,81.47 L70.32,82.89 L70.59,84.30 L70.87,85.73 L71.15,87.15 L71.43,88.58 L71.72,90.01 L72.00,91.45 L72.30,92.89 L72.59,94.33 L72.89,95.77 L73.20,97.21 L73.50,98.66 L73.81,100.10 L74.12,101.55 L74.44,102.99 L74.76,104.43 L75.08,105.88 L75.41,107.32 L75.74,108.76 L76.07,110.20 L76.41,111.64 L76.75,113.07 L77.09,114.50 L77.44,115.93 L77.79,117.35 L78.14,118.78 L78.50,120.19 L78.86,121.61 L79.22,123.01 L79.59,124.42 L79.96,125.82 L80.33,127.21 L80.71,128.60 L81.09,129.98 L81.47,131.35 L81.86,132.72 L82.25,134.08 L82.64,135.44 L83.04,136.78 L83.44,138.12 L83.85,139.46 L84.25,140.78 L84.67,142.09 L85.08,143.40 L85.50,144.70 L85.92,145.99 L86.34,147.27 L86.77,148.54 L87.20,149.81 L87.64,151.06 L88.07,152.30 L88.52,153.54 L88.96,154.76 L89.41,155.97 L89.86,157.18 L90.31,158.37 L90.77,159.55 L91.23,160.72 L91.70,161.88 L92.17,163.03 L92.64,164.17 L93.11,165.29 L93.59,166.41 L94.07,167.51 L94.56,168.60 L95.05,169.68 L95.54,170.75 L96.04,171.81 L96.53,172.85 L97.04,173.89 L97.54,174.91 L98.05,175.92 L98.56,176.91 L99.08,177.90 L99.60,178.87 L100.12,179.83 L100.65,180.78 L101.18,181.72 L101.71,182.64 L102.24,183.55 L102.78,184.45 L103.33,185.34 L103.87,186.21 L104.42,187.07 L104.97,187.92 L105.53,188.76 L106.09,189.58 L106.65,190.40 L107.22,191.20 L107.79,191.99 L108.36,192.76 L108.94,193.53 L109.52,194.28 L110.10,195.02 L110.69,195.75 L111.28,196.46 L111.87,197.17 L112.47,197.86 L113.07,198.54 L113.67,199.21 L114.28,199.87 L114.89,200.51 L115.50,201.15 L116.12,201.77 L116.74,202.38 L117.37,202.98 L117.99,203.57 L118.62,204.15 L119.26,204.72 L119.90,205.27 L120.54,205.82 L121.18,206.35 L121.83,206.88 L122.48,207.39 L123.13,207.90 L123.79,208.39 L124.45,208.87 L125.12,209.35 L125.78,209.81 L126.46,210.26 L127.13,210.71 L127.81,211.14 L128.49,211.57 L129.17,211.98 L129.86,212.39 L130.55,212.78 L131.25,213.17 L131.95,213.55 L132.65,213.92 L133.35,214.28 L134.06,214.64 L134.77,214.98 L135.49,215.32 L136.21,215.65 L136.93,215.97 L137.66,216.28 L138.38,216.59 L139.12,216.89 L139.85,217.18 L140.59,217.46 L141.33,217.73 L142.08,218.00 L142.83,218.26 L143.58,218.52 L144.34,218.77 L145.09,219.01 L145.86,219.24 L146.62,219.47 L147.39,219.69 L148.16,219.91 L148.94,220.12 L149.72,220.32 L150.50,220.52 L151.29,220.71 L152.08,220.90 L152.87,221.08 L153.67,221.26 L154.47,221.43 L155.27,221.60 L156.08,221.76 L156.89,221.91 L157.70,222.06 L158.52,222.21 L159.34,222.35 L160.16,222.49 L160.99,222.62 L161.82,222.75 L162.65,222.88 L163.49,223.00 L164.33,223.12 L165.17,223.23 L166.02,223.34 L166.87,223.45 L167.72,223.55 L168.58,223.65 L169.44,223.74 L170.31,223.83 L171.17,223.92 L172.04,224.01 L172.92,224.09 L173.80,224.17 L174.68,224.25 L175.56,224.32 L176.45,224.40 L177.34,224.46 L178.23,224.53 L179.13,224.60 L180.03,224.66 L180.94,224.72 L181.84,224.77 L182.76,224.83 L183.67,224.88 L184.59,224.93 L185.51,224.98 L186.44,225.03 L187.36,225.07 L188.30,225.12 L189.23,225.16 L190.17,225.20 L191.11,225.24 L192.06,225.27 L193.00,225.31 L193.96,225.34 L194.91,225.37 L195.87,225.40 L196.83,225.43 L197.80,225.46 L198.77,225.49 L199.74,225.51 L200.71,225.54 L201.69,225.56 L202.67,225.59 L203.66,225.61 L204.65,225.63 L205.64,225.65 L206.64,225.67 L207.64,225.68 L208.64,225.70 L209.65,225.72 L210.66,225.73 L211.67,225.75 L212.68,225.76 L213.70,225.77 L214.73,225.79 L215.75,225.80 L216.78,225.81 L217.82,225.82 L218.85,225.83 L219.89,225.84 L220.94,225.85 L221.98,225.86 L223.03,225.87 L224.08,225.88 L225.14,225.88 L226.20,225.89 L227.27,225.90 L228.33,225.90 L229.40,225.91 L230.48,225.91 L231.55,225.92 L232.63,225.93 L233.72,225.93 L234.80,225.93 L235.89,225.94 L236.99,225.94 L238.09,225.95 L239.19,225.95 L240.29,225.95 L241.40,225.96 L242.51,225.96 L243.62,225.96 L244.74,225.96 L245.86,225.97 L246.99,225.97 L248.11,225.97 L249.25,225.97 L250.38,225.98 L251.52,225.98 L252.66,225.98 L253.80,225.98 L254.95,225.98 L256.10,225.98 L257.26,225.98 L258.42,225.99 L259.58,225.99 L260.74,225.99 L261.91,225.99 L263.08,225.99 L264.26,225.99 L265.44,225.99 L266.62,225.99 L267.80,225.99 L268.99,225.99 L270.18,225.99 L271.38,225.99 L272.58,225.99 L273.78,226.00 L274.99,226.00 L276.19,226.00 L277.41,226.00 L278.62,226.00 L279.84,226.00 L281.06,226.00 L282.29,226.00 L283.52,226.00 L284.75,226.00 L285.99,226.00 L287.23,226.00 L288.47,226.00 L289.72,226.00 L290.96,226.00 L292.22,226.00 L293.47,226.00 L294.73,226.00 L296.00,226.00 L297.26,226.00 L298.53,226.00 L299.81,226.00 L301.08,226.00 L302.36,226.00 L303.65,226.00 L304.93,226.00 L306.22,226.00 L307.52,226.00 L308.81,226.00 L310.11,226.00 L311.42,226.00 L312.72,226.00 L314.03,226.00 L315.35,226.00 L316.66,226.00 L317.98,226.00 L319.31,226.00 L320.64,226.00 L321.97,226.00 L323.30,226.00 L324.64,226.00 L325.98,226.00 L327.32,226.00 L328.67,226.00 L330.02,226.00 L331.38,226.00 L332.73,226.00 L334.09,226.00 L335.46,226.00 L336.83,226.00 L338.20,226.00 L339.57,226.00 L340.95,226.00 L342.33,226.00 L343.72,226.00 L345.10,226.00 L346.50,226.00 L347.89,226.00 L349.29,226.00 L350.69,226.00 L352.10,226.00 L353.50,226.00 L354.92,226.00 L356.33,226.00 L357.75,226.00 L359.17,226.00 L360.60,226.00 L362.03,226.00 L363.46,226.00 L364.89,226.00 L366.33,226.00 L367.77,226.00 L369.22,226.00 L370.67,226.00 L372.12,226.00 L373.58,226.00 L375.04,226.00 L376.50,226.00 L377.96,226.00 L379.43,226.00 L380.91,226.00 L382.38,226.00 L383.86,226.00 L385.34,226.00 L386.83,226.00 L388.32,226.00 L389.81,226.00 L391.31,226.00 L392.81,226.00 L394.31,226.00 L395.82,226.00 L397.33,226.00 L398.84,226.00 L400.36,226.00 L401.88,226.00 L403.40,226.00 L404.93,226.00 L406.46,226.00 L407.99,226.00 L409.53,226.00 L411.07,226.00 L412.61,226.00 L414.16,226.00 L415.71,226.00 L417.26,226.00 L418.82,226.00 L420.38,226.00 L421.95,226.00 L423.51,226.00 L425.08,226.00 L426.66,226.00 L428.24,226.00 L429.82,226.00 L431.40,226.00 L432.99,226.00 L434.58,226.00 L436.17,226.00 L437.77,226.00 L439.37,226.00 L440.98,226.00 L442.58,226.00 L444.20,226.00 L445.81,226.00 L447.43,226.00 L449.05,226.00 L450.68,226.00 L452.30,226.00 L453.93,226.00 L455.57,226.00 L457.21,226.00 L458.85,226.00 L460.49,226.00 L462.14,226.00 L463.80,226.00 L465.45,226.00 L467.11,226.00 L468.77,226.00 L470.44,226.00 L472.11,226.00 L473.78,226.00 L475.45,226.00 L477.13,226.00 L478.81,226.00 L480.50,226.00" fill="none" stroke="#000000" stroke-width="1.65" stroke-dasharray="6.6,4.95,1.65,4.95" stroke-linecap="butt" stroke-linejoin="round"/>
<path d="M59.50,14.50 L59.50,14.52 L59.51,14.58 L59.52,14.69 L59.53,14.84 L59.54,15.03 L59.56,15.26 L59.58,15.54 L59.61,15.85 L59.64,16.21 L59.67,16.61 L59.70,17.05 L59.74,17.54 L59.79,18.06 L59.83,18.62 L59.88,19.23 L59.93,19.87 L59.99,20.55 L60.05,21.27 L60.11,22.03 L60.18,22.83 L60.25,23.67 L60.32,24.54 L60.39,25.45 L60.47,26.40 L60.56,27.38 L60.64,28.40 L60.73,29.45 L60.83,30.53 L60.92,31.65 L61.02,32.80 L61.12,33.99 L61.23,35.20 L61.34,36.45 L61.45,37.73 L61.57,39.03 L61.69,40.37 L61.81,41.73 L61.94,43.12 L62.07,44.54 L62.21,45.98 L62.34,47.45 L62.48,48.94 L62.63,50.46 L62.77,51.99 L62.92,53.55 L63.08,55.14 L63.23,56.74 L63.40,58.36 L63.56,60.00 L63.73,61.66 L63.90,63.33 L64.07,65.02 L64.25,66.73 L64.43,68.45 L64.61,70.19 L64.80,71.94 L64.99,73.70 L65.19,75.47 L65.39,77.25 L65.59,79.04 L65.79,80.84 L66.00,82.65 L66.21,84.47 L66.43,86.29 L66.64,88.12 L66.86,89.95 L67.09,91.79 L67.32,93.63 L67.55,95.47 L67.78,97.32 L68.02,99.16 L68.26,101.01 L68.51,102.85 L68.76,104.70 L69.01,106.54 L69.27,108.38 L69.52,110.21 L69.79,112.05 L70.05,113.87 L70.32,115.69 L70.59,117.51 L70.87,119.32 L71.15,121.12 L71.43,122.91 L71.72,124.70 L72.00,126.48 L72.30,128.24 L72.59,130.00 L72.89,131.74 L73.20,133.48 L73.50,135.20 L73.81,136.91 L74.12,138.61 L74.44,140.29 L74.76,141.96 L75.08,143.62 L75.41,145.26 L75.74,146.89 L76.07,148.50 L76.41,150.09 L76.75,151.67 L77.09,153.24 L77.44,154.78 L77.79,156.31 L78.14,157.83 L78.50,159.32 L78.86,160.80 L79.22,162.26 L79.59,163.70 L79.96,165.12 L80.33,166.53 L80.71,167.91 L81.09,169.28 L81.47,170.63 L81.86,171.95 L82.25,173.26 L82.64,174.55 L83.04,175.82 L83.44,177.07 L83.85,178.30 L84.25,179.51 L84.67,180.70 L85.08,181.87 L85.50,183.02 L85.92,184.15 L86.34,185.26 L86.77,186.35 L87.20,187.42 L87.64,188.48 L88.07,189.51 L88.52,190.52 L88.96,191.51 L89.41,192.49 L89.86,193.44 L90.31,194.37 L90.77,195.29 L91.23,196.19 L91.70,197.06 L92.17,197.92 L92.64,198.76 L93.11,199.58 L93.59,200.39 L94.07,201.17 L94.56,201.94 L95.05,202.69 L95.54,203.42 L96.04,204.14 L96.53,204.84 L97.04,205.52 L97.54,206.18 L98.05,206.83 L98.56,207.46 L99.08,208.08 L99.60,208.68 L100.12,209.26 L100.65,209.83 L101.18,210.39 L101.71,210.92 L102.24,211.45 L102.78,211.96 L103.33,212.45 L103.87,212.94 L104.42,213.40 L104.97,213.86 L105.53,214.30 L106.09,214.73 L106.65,215.15 L107.22,215.55 L107.79,215.94 L108.36,216.32 L108.94,216.69 L109.52,217.05 L110.10,217.39 L110.69,217.73 L111.28,218.05 L111.87,218.36 L112.47,218.67 L113.07,218.96 L113.67,219.24 L114.28,219.52 L114.89,219.78 L115.50,220.04 L116.12,220.28 L116.74,220.52 L117.37,220.75 L117.99,220.97 L118.62,221.19 L119.26,221.40 L119.90,221.59 L120.54,221.79 L121.18,221.97 L121.83,222.15 L122.48,222.32 L123.13,222.48 L123.79,222.64 L124.45,222.79 L125.12,222.94 L125.78,223.08 L126.46,223.22 L127.13,223.35 L127.81,223.47 L128.49,223.59 L129.17,223.70 L129.86,223.81 L130.55,223.92 L131.25,224.02 L131.95,224.12 L132.65,224.21 L133.35,224.30 L134.06,224.38 L134.77,224.46 L135.49,224.54 L136.21,224.62 L136.93,224.69 L137.66,224.75 L138.38,224.82 L139.12,224.88 L139.85,224.94 L140.59,224.99 L141.33,225.05 L142.08,225.10 L142.83,225.15 L143.58,225.19 L144.34,225.24 L145.09,225.28 L145.86,225.32 L146.62,225.36 L147.39,225.39 L148.16,225.43 L148.94,225.46 L149.72,225.49 L150.50,225.52 L151.29,225.55 L152.08,225.57 L152.87,225.60 L153.67,225.62 L154.47,225.65 L155.27,225.67 L156.08,225.69 L156.89,225.71 L157.70,225.72 L158.52,225.74 L159.34,225.76 L160.16,225.77 L160.99,225.79 L161.82,225.80 L162.65,225.81 L163.49,225.82 L164.33,225.84 L165.17,225.85 L166.02,225.86 L166.87,225.87 L167.72,225.87 L168.58,225.88 L169.44,225.89 L170.31,225.90 L171.17,225.90 L172.04,225.91 L172.92,225.92 L173.80,225.92 L174.68,225.93 L175.56,225.93 L176.45,225.94 L177.34,225.94 L178.23,225.95 L179.13,225.95 L180.03,225.95 L180.94,225.96 L181.84,225.96 L182.76,225.96 L183.67,225.97 L184.59,225.97 L185.51,225.97 L186.44,225.97 L187.36,225.98 L188.30,225.98 L189.23,225.98 L190.17,225.98 L191.11,225.98 L192.06,225.98 L193.00,225.98 L193.96,225.99 L194.91,225.99 L195.87,225.99 L196.83,225.99 L197.80,225.99 L198.77,225.99 L199.74,225.99 L200.71,225.99 L201.69,225.99 L202.67,225.99 L203.66,225.99 L204.65,225.99 L205.64,226.00 L206.64,226.00 L207.64,226.00 L208.64,226.00 L209.65,226.00 L210.66,226.00 L211.67,226.00 L212.68,226.00 L213.70,226.00 L214.73,226.00 L215.75,226.00 L216.78,226.00 L217.82,226.00 L218.85,226.00 L219.89,226.00 L220.94,226.00 L221.98,226.00 L223.03,226.00 L224.08,226.00 L225.14,226.00 L226.20,226.00 L227.27,226.00 L228.33,226.00 L229.40,226.00 L230.48,226.00 L231.55,226.00 L232.63,226.00 L233.72,226.00 L234.80,226.00 L235.89,226.00 L236.99,226.00 L238.09,226.00 L239.19,226.00 L240.29,226.00 L241.40,226.00 L242.51,226.00 L243.62,226.00 L244.74,226.00 L245.86,226.00 L246.99,226.00 L248.11,226.00 L249.25,226.00 L250.38,226.00 L251.52,226.00 L252.66,226.00 L253.80,226.00 L254.95,226.00 L256.10,226.00 L257.26,226.00 L258.42,226.00 L259.58,226.00 L260.74,226.00 L261.91,226.00 L263.08,226.00 L264.26,226.00 L265.44,226.00 L266.62,226.00 L267.80,226.00 L268.99,226.00 L270.18,226.00 L271.38,226.00 L272.58,226.00 L273.78,226.00 L274.99,226.00 L276.19,226.00 L277.41,226.00 L278.62,226.00 L279.84,226.00 L281.06,226.00 L282.29,226.00 L283.52,226.00 L284.75,226.00 L285.99,226.00 L287.23,226.00 L288.47,226.00 L289.72,226.00 L290.96,226.00 L292.22,226.00 L293.47,226.00 L294.73,226.00 L296.00,226.00 L297.26,226.00 L298.53,226.00 L299.81,226.00 L301.08,226.00 L302.36,226.00 L303.65,226.00 L304.93,226.00 L306.22,226.00 L307.52,226.00 L308.81,226.00 L310.11,226.00 L311.42,226.00 L312.72,226.00 L314.03,226.00 L315.35,226.00 L316.66,226.00 L317.98,226.00 L319.31,226.00 L320.64,226.00 L321.97,226.00 L323.30,226.00 L324.64,226.00 L325.98,226.00 L327.32,226.00 L328.67,226.00 L330.02,226.00 L331.38,226.00 L332.73,226.00 L334.09,226.00 L335.46,226.00 L336.83,226.00 L338.20,226.00 L339.57,226.00 L340.95,226.00 L342.33,226.00 L343.72,226.00 L345.10,226.00 L346.50,226.00 L347.89,226.00 L349.29,226.00 L350.69,226.00 L352.10,226.00 L353.50,226.00 L354.92,226.00 L356.33,226.00 L357.75,226.00 L359.17,226.00 L360.60,226.00 L362.03,226.00 L363.46,226.00 L364.89,226.00 L366.33,226.00 L367.77,226.00 L369.22,226.00 L370.67,226.00 L372.12,226.00 L373.58,226.00 L375.04,226.00 L376.50,226.00 L377.96,226.00 L379.43,226.00 L380.91,226.00 L382.38,226.00 L383.86,226.00 L385.34,226.00 L386.83,226.00 L388.32,226.00 L389.81,226.00 L391.31,226.00 L392.81,226.00 L394.31,226.00 L395.82,226.00 L397.33,226.00 L398.84,226.00 L400.36,226.00 L401.88,226.00 L403.40,226.00 L404.93,226.00 L406.46,226.00 L407.99,226.00 L409.53,226.00 L411.07,226.00 L412.61,226.00 L414.16,226.00 L415.71,226.00 L417.26,226.00 L418.82,226.00 L420.38,226.00 L421.95,226.00 L423.51,226.00 L425.08,226.00 L426.66,226.00 L428.24,226.00 L429.82,226.00 L431.40,226.00 L432.99,226.00 L434.58,226.00 L436.17,226.00 L437.77,226.00 L439.37,226.00 L440.98,226.00 L442.58,226.00 L444.20,226.00 L445.81,226.00 L447.43,226.00 L449.05,226.00 L450.68,226.00 L452.30,226.00 L453.93,226.00 L455.57,226.00 L457.21,226.00 L458.85,226.00 L460.49,226.00 L462.14,226.00 L463.80,226.00 L465.45,226.00 L467.11,226.00 L468.77,226.00 L470.44,226.00 L472.11,226.00 L473.78,226.00 L475.45,226.00 L477.13,226.00 L478.81,226.00 L480.50,226.00" fill="none" stroke="#000000" stroke-width="1.65" stroke-dasharray="1.65,1.65" stroke-linecap="butt" stroke-linejoin="round"/>
</g>
<path d="M101.60,226.0 V223.50 M143.70,226.0 V222.50 M185.80,226.0 V223.50 M227.90,226.0 V222.50 M270.00,226.0 V223.50 M312.10,226.0 V222.50 M354.20,226.0 V223.50 M396.30,226.0 V222.50 M438.40,226.0 V223.50 M59.5,204.85 H62.00 M59.5,183.70 H63.00 M59.5,162.55 H62.00 M59.5,141.40 H63.00 M59.5,120.25 H62.00 M59.5,99.10 H63.00 M59.5,77.95 H62.00 M59.5,56.80 H63.00 M59.5,35.65 H62.00" stroke="#2a2a2a" stroke-width="1.1" fill="none"/>
<rect x="59.5" y="14.5" width="421.00" height="211.50" fill="none" stroke="#2a2a2a" stroke-width="1.3"/>
<text x="50" y="229.65" text-anchor="end" font-size="11" font-family="Liberation Serif, serif" fill="#1a1a1a" stroke="#1a1a1a" style="stroke-width:0.22px">0</text>
<text x="50" y="187.35" text-anchor="end" font-size="11" font-family="Liberation Serif, serif" fill="#1a1a1a" stroke="#1a1a1a" style="stroke-width:0.22px">0.2</text>
<text x="50" y="145.05" text-anchor="end" font-size="11" font-family="Liberation Serif, serif" fill="#1a1a1a" stroke="#1a1a1a" style="stroke-width:0.22px">0.4</text>
<text x="50" y="102.75" text-anchor="end" font-size="11" font-family="Liberation Serif, serif" fill="#1a1a1a" stroke="#1a1a1a" style="stroke-width:0.22px">0.6</text>
<text x="50" y="60.45" text-anchor="end" font-size="11" font-family="Liberation Serif, serif" fill="#1a1a1a" stroke="#1a1a1a" style="stroke-width:0.22px">0.8</text>
<text x="50" y="18.15" text-anchor="end" font-size="11" font-family="Liberation Serif, serif" fill="#1a1a1a" stroke="#1a1a1a" style="stroke-width:0.22px">1</text>
<text x="59.50" y="243.20" text-anchor="middle" font-size="11" font-family="Liberation Serif, serif" fill="#1a1a1a" stroke="#1a1a1a" style="stroke-width:0.22px">0</text>
<text x="143.70" y="243.20" text-anchor="middle" font-size="11" font-family="Liberation Serif, serif" fill="#1a1a1a" stroke="#1a1a1a" style="stroke-width:0.22px">0.2</text>
<text x="227.90" y="243.20" text-anchor="middle" font-size="11" font-family="Liberation Serif, serif" fill="#1a1a1a" stroke="#1a1a1a" style="stroke-width:0.22px">0.4</text>
<text x="312.10" y="243.20" text-anchor="middle" font-size="11" font-family="Liberation Serif, serif" fill="#1a1a1a" stroke="#1a1a1a" style="stroke-width:0.22px">0.6</text>
<text x="396.30" y="243.20" text-anchor="middle" font-size="11" font-family="Liberation Serif, serif" fill="#1a1a1a" stroke="#1a1a1a" style="stroke-width:0.22px">0.8</text>
<text x="480.50" y="243.20" text-anchor="middle" font-size="11" font-family="Liberation Serif, serif" fill="#1a1a1a" stroke="#1a1a1a" style="stroke-width:0.22px">1</text>
<path d="M267.1,23.15 H294.9" stroke="#0000ee" stroke-width="1.65" fill="none"/>
<text x="297.2" y="26.95" font-size="11.4" font-family="Liberation Serif, serif" fill="#1a1a1a" stroke="#1a1a1a">LBNL Model: Swr=0.09, m=0.46</text>
<path d="M267.1,38.70 H294.9" stroke="#f89b1c" stroke-width="1.65" fill="none"/>
<text x="297.2" y="42.49" font-size="11.4" font-family="Liberation Serif, serif" fill="#1a1a1a" stroke="#1a1a1a">CMG Model: ε=10, φ0=0.55</text>
<path d="M267.1,54.24 H294.9" stroke="#ff00ff" stroke-width="1.65" fill="none"/>
<text x="297.2" y="58.04" font-size="11.4" font-family="Liberation Serif, serif" fill="#1a1a1a" stroke="#1a1a1a">Civan Model: β=0.75, φ0=0.55</text>
<path d="M267.1,69.78 H294.9" stroke="#ff00ff" stroke-width="1.65" stroke-dasharray="4.95,1.65" fill="none"/>
<text x="297.2" y="73.58" font-size="11.4" font-family="Liberation Serif, serif" fill="#1a1a1a" stroke="#1a1a1a">Civan Model: β=2, φ0=0.55</text>
<path d="M267.1,85.33 H294.9" stroke="#ff00ff" stroke-width="1.65" stroke-dasharray="6.6,4.95" fill="none"/>
<text x="297.2" y="89.13" font-size="11.4" font-family="Liberation Serif, serif" fill="#1a1a1a" stroke="#1a1a1a">Civan Model: β=3, φ0=0.55</text>
<path d="M267.1,100.88 H294.9" stroke="#00ffff" stroke-width="1.65" fill="none"/>
<text x="297.2" y="104.67" font-size="11.4" font-family="Liberation Serif, serif" fill="#1a1a1a" stroke="#1a1a1a">Sakamoto et al.: Sh1,max=0.3, N2=6.2</text>
<path d="M267.1,116.42 H294.9" stroke="#000000" stroke-width="1.65" fill="none"/>
<text x="297.2" y="120.22" font-size="11.4" font-family="Liberation Serif, serif" fill="#1a1a1a" stroke="#1a1a1a">Tokyo Model: N=3</text>
<path d="M267.1,131.97 H294.9" stroke="#000000" stroke-width="1.65" stroke-dasharray="6.6,4.95" fill="none"/>
<text x="297.2" y="135.77" font-size="11.4" font-family="Liberation Serif, serif" fill="#1a1a1a" stroke="#1a1a1a">Tokyo Model: N=5</text>
<path d="M267.1,147.51 H294.9" stroke="#000000" stroke-width="1.65" stroke-dasharray="4.95,1.65" fill="none"/>
<text x="297.2" y="151.31" font-size="11.4" font-family="Liberation Serif, serif" fill="#1a1a1a" stroke="#1a1a1a">Tokyo Model: N=10</text>
<path d="M267.1,163.06 H294.9" stroke="#000000" stroke-width="1.65" stroke-dasharray="6.6,4.95,1.65,4.95" fill="none"/>
<text x="297.2" y="166.86" font-size="11.4" font-family="Liberation Serif, serif" fill="#1a1a1a" stroke="#1a1a1a">Tokyo Model: N=15</text>
<path d="M267.1,178.60 H294.9" stroke="#000000" stroke-width="1.65" stroke-dasharray="1.65,1.65" fill="none"/>
<text x="297.2" y="182.40" font-size="11.4" font-family="Liberation Serif, serif" fill="#1a1a1a" stroke="#1a1a1a">Tokyo Model: N=25</text>
<text x="219.5" y="264.7" font-size="14.55" font-family="Liberation Serif, serif" fill="#000" stroke="#000" style="stroke-width:0.12px">Hydrate saturation <tspan font-style="italic">S</tspan><tspan font-style="italic" font-size="9.5" dy="3.8" dx="0.4">h</tspan></text>
<text transform="translate(20.2,121.6) rotate(-90)" text-anchor="middle" font-size="14.55" font-family="Liberation Serif, serif" fill="#000" stroke="#000" style="stroke-width:0.12px">Normalized permeability <tspan font-style="italic">K</tspan><tspan font-style="italic" font-size="9.5" dy="3.8" dx="0.4">n</tspan></text>
<text x="7.5" y="17.9" font-size="14" font-weight="bold" font-family="Liberation Serif, serif" fill="#111" stroke="#111">(a)</text>
<path d="M101.59,500.7 V497.80 M143.68,500.7 V497.80 M185.77,500.7 V497.80 M227.86,500.7 V497.80 M269.95,500.7 V497.80 M312.04,500.7 V497.80 M354.13,500.7 V497.80 M396.22,500.7 V497.80 M438.31,500.7 V497.80 M59.5,479.38 H62.40 M59.5,458.06 H62.40 M59.5,436.74 H62.40 M59.5,415.42 H62.40 M59.5,394.10 H62.40 M59.5,372.78 H62.40 M59.5,351.46 H62.40 M59.5,330.14 H62.40 M59.5,308.82 H62.40" stroke="#444" stroke-width="1.1" fill="none"/>
<rect x="59.5" y="287.5" width="420.90" height="213.20" fill="none" stroke="#444" stroke-width="1.3"/>
<path d="M59.50,287.50 L59.54,287.52 L59.61,287.57 L59.70,287.62 L59.80,287.69 L59.92,287.77 L60.05,287.85 L60.20,287.94 L60.35,288.04 L60.52,288.15 L60.69,288.26 L60.88,288.37 L61.07,288.49 L61.27,288.62 L61.48,288.75 L61.69,288.89 L61.92,289.03 L62.15,289.17 L62.38,289.32 L62.63,289.48 L62.88,289.64 L63.13,289.80 L63.40,289.96 L63.67,290.13 L63.94,290.31 L64.22,290.48 L64.51,290.66 L64.80,290.85 L65.09,291.04 L65.40,291.23 L65.70,291.42 L66.02,291.62 L66.34,291.82 L66.66,292.02 L66.99,292.23 L67.32,292.44 L67.66,292.65 L68.00,292.87 L68.35,293.09 L68.70,293.31 L69.05,293.53 L69.41,293.76 L69.78,293.99 L70.15,294.22 L70.52,294.45 L70.90,294.69 L71.28,294.93 L71.67,295.18 L72.06,295.42 L72.45,295.67 L72.85,295.92 L73.25,296.17 L73.66,296.43 L74.07,296.68 L74.48,296.94 L74.90,297.21 L75.32,297.47 L75.75,297.74 L76.18,298.01 L76.61,298.28 L77.05,298.55 L77.49,298.83 L77.93,299.11 L78.38,299.39 L78.83,299.67 L79.29,299.95 L79.75,300.24 L80.21,300.53 L80.67,300.82 L81.14,301.11 L81.61,301.41 L82.09,301.71 L82.57,302.00 L83.05,302.31 L83.54,302.61 L84.03,302.91 L84.52,303.22 L85.01,303.53 L85.51,303.84 L86.01,304.15 L86.52,304.47 L87.03,304.78 L87.54,305.10 L88.05,305.42 L88.57,305.74 L89.09,306.07 L89.61,306.39 L90.14,306.72 L90.67,307.05 L91.20,307.38 L91.74,307.71 L92.28,308.05 L92.82,308.38 L93.37,308.72 L93.91,309.06 L94.46,309.40 L95.02,309.75 L95.57,310.09 L96.13,310.44 L96.69,310.78 L97.26,311.13 L97.83,311.48 L98.40,311.84 L98.97,312.19 L99.55,312.55 L100.13,312.91 L100.71,313.26 L101.29,313.62 L101.88,313.99 L102.47,314.35 L103.06,314.72 L103.66,315.08 L104.26,315.45 L104.86,315.82 L105.46,316.19 L106.07,316.56 L106.68,316.94 L107.29,317.31 L107.90,317.69 L108.52,318.07 L109.14,318.45 L109.76,318.83 L110.38,319.21 L111.01,319.60 L111.64,319.98 L112.27,320.37 L112.91,320.76 L113.54,321.15 L114.18,321.54 L114.82,321.93 L115.47,322.33 L116.12,322.72 L116.76,323.12 L117.42,323.52 L118.07,323.92 L118.73,324.32 L119.39,324.72 L120.05,325.12 L120.71,325.53 L121.38,325.93 L122.05,326.34 L122.72,326.75 L123.39,327.16 L124.07,327.57 L124.75,327.98 L125.43,328.39 L126.11,328.81 L126.80,329.22 L127.49,329.64 L128.18,330.06 L128.87,330.48 L129.56,330.90 L130.26,331.32 L130.96,331.74 L131.66,332.17 L132.37,332.59 L133.07,333.02 L133.78,333.45 L134.49,333.87 L135.20,334.30 L135.92,334.73 L136.64,335.17 L137.36,335.60 L138.08,336.03 L138.80,336.47 L139.53,336.91 L140.26,337.34 L140.99,337.78 L141.72,338.22 L142.46,338.66 L143.20,339.10 L143.93,339.55 L144.68,339.99 L145.42,340.44 L146.17,340.88 L146.91,341.33 L147.67,341.78 L148.42,342.23 L149.17,342.68 L149.93,343.13 L150.69,343.58 L151.45,344.03 L152.21,344.49 L152.98,344.94 L153.74,345.40 L154.51,345.86 L155.29,346.31 L156.06,346.77 L156.83,347.23 L157.61,347.69 L158.39,348.16 L159.17,348.62 L159.96,349.08 L160.74,349.55 L161.53,350.01 L162.32,350.48 L163.11,350.95 L163.91,351.41 L164.70,351.88 L165.50,352.35 L166.30,352.82 L167.10,353.30 L167.91,353.77 L168.71,354.24 L169.52,354.72 L170.33,355.19 L171.14,355.67 L171.96,356.14 L172.77,356.62 L173.59,357.10 L174.41,357.58 L175.23,358.06 L176.06,358.54 L176.88,359.02 L177.71,359.51 L178.54,359.99 L179.37,360.47 L180.20,360.96 L181.04,361.45 L181.88,361.93 L182.71,362.42 L183.56,362.91 L184.40,363.40 L185.24,363.89 L186.09,364.38 L186.94,364.87 L187.79,365.36 L188.64,365.85 L189.50,366.35 L190.35,366.84 L191.21,367.33 L192.07,367.83 L192.93,368.33 L193.80,368.82 L194.66,369.32 L195.53,369.82 L196.40,370.32 L197.27,370.82 L198.14,371.32 L199.02,371.82 L199.89,372.32 L200.77,372.82 L201.65,373.33 L202.53,373.83 L203.42,374.33 L204.30,374.84 L205.19,375.34 L206.08,375.85 L206.97,376.36 L207.86,376.86 L208.76,377.37 L209.65,377.88 L210.55,378.39 L211.45,378.90 L212.35,379.41 L213.26,379.92 L214.16,380.43 L215.07,380.94 L215.98,381.46 L216.89,381.97 L217.80,382.48 L218.72,383.00 L219.63,383.51 L220.55,384.03 L221.47,384.54 L222.39,385.06 L223.31,385.58 L224.24,386.09 L225.16,386.61 L226.09,387.13 L227.02,387.65 L227.95,388.17 L228.89,388.69 L229.82,389.21 L230.76,389.73 L231.70,390.25 L232.64,390.77 L233.58,391.29 L234.52,391.82 L235.47,392.34 L236.42,392.86 L237.36,393.39 L238.31,393.91 L239.27,394.44 L240.22,394.96 L241.18,395.49 L242.13,396.01 L243.09,396.54 L244.05,397.07 L245.01,397.59 L245.98,398.12 L246.94,398.65 L247.91,399.18 L248.88,399.70 L249.85,400.23 L250.82,400.76 L251.79,401.29 L252.77,401.82 L253.75,402.35 L254.72,402.88 L255.70,403.41 L256.69,403.94 L257.67,404.48 L258.66,405.01 L259.64,405.54 L260.63,406.07 L261.62,406.60 L262.61,407.14 L263.61,407.67 L264.60,408.20 L265.60,408.74 L266.59,409.27 L267.59,409.80 L268.60,410.34 L269.60,410.87 L270.60,411.41 L271.61,411.94 L272.62,412.48 L273.63,413.01 L274.64,413.55 L275.65,414.08 L276.66,414.62 L277.68,415.16 L278.70,415.69 L279.71,416.23 L280.73,416.77 L281.76,417.30 L282.78,417.84 L283.80,418.38 L284.83,418.91 L285.86,419.45 L286.89,419.99 L287.92,420.52 L288.95,421.06 L289.99,421.60 L291.02,422.14 L292.06,422.67 L293.10,423.21 L294.14,423.75 L295.18,424.29 L296.23,424.83 L297.27,425.36 L298.32,425.90 L299.37,426.44 L300.42,426.98 L301.47,427.51 L302.52,428.05 L303.57,428.59 L304.63,429.13 L305.69,429.67 L306.75,430.20 L307.81,430.74 L308.87,431.28 L309.93,431.82 L311.00,432.35 L312.06,432.89 L313.13,433.43 L314.20,433.97 L315.27,434.50 L316.34,435.04 L317.42,435.58 L318.49,436.11 L319.57,436.65 L320.65,437.19 L321.73,437.72 L322.81,438.26 L323.89,438.79 L324.98,439.33 L326.06,439.87 L327.15,440.40 L328.24,440.94 L329.33,441.47 L330.42,442.00 L331.51,442.54 L332.61,443.07 L333.70,443.61 L334.80,444.14 L335.90,444.67 L337.00,445.21 L338.10,445.74 L339.21,446.27 L340.31,446.80 L341.42,447.33 L342.53,447.87 L343.64,448.40 L344.75,448.93 L345.86,449.46 L346.97,449.99 L348.09,450.52 L349.20,451.04 L350.32,451.57 L351.44,452.10 L352.56,452.63 L353.68,453.15 L354.81,453.68 L355.93,454.21 L357.06,454.73 L358.19,455.26 L359.31,455.78 L360.45,456.30 L361.58,456.83 L362.71,457.35 L363.85,457.87 L364.98,458.39 L366.12,458.91 L367.26,459.43 L368.40,459.95 L369.54,460.47 L370.68,460.99 L371.83,461.51 L372.98,462.02 L374.12,462.54 L375.27,463.05 L376.42,463.57 L377.57,464.08 L378.73,464.59 L379.88,465.11 L381.04,465.62 L382.20,466.13 L383.35,466.64 L384.51,467.14 L385.68,467.65 L386.84,468.16 L388.00,468.66 L389.17,469.17 L390.34,469.67 L391.50,470.17 L392.67,470.68 L393.84,471.18 L395.02,471.67 L396.19,472.17 L397.37,472.67 L398.54,473.16 L399.72,473.66 L400.90,474.15 L402.08,474.64 L403.26,475.13 L404.45,475.62 L405.63,476.11 L406.82,476.60 L408.00,477.08 L409.19,477.57 L410.38,478.05 L411.57,478.53 L412.77,479.01 L413.96,479.49 L415.16,479.96 L416.35,480.44 L417.55,480.91 L418.75,481.38 L419.95,481.85 L421.15,482.32 L422.36,482.78 L423.56,483.25 L424.77,483.71 L425.98,484.17 L427.18,484.63 L428.39,485.08 L429.61,485.54 L430.82,485.99 L432.03,486.44 L433.25,486.88 L434.47,487.33 L435.68,487.77 L436.90,488.21 L438.12,488.64 L439.35,489.08 L440.57,489.51 L441.79,489.94 L443.02,490.36 L444.25,490.79 L445.48,491.21 L446.71,491.62 L447.94,492.03 L449.17,492.44 L450.40,492.85 L451.64,493.25 L452.87,493.65 L454.11,494.04 L455.35,494.43 L456.59,494.82 L457.83,495.20 L459.08,495.58 L460.32,495.95 L461.56,496.31 L462.81,496.67 L464.06,497.03 L465.31,497.37 L466.56,497.71 L467.81,498.05 L469.06,498.37 L470.32,498.69 L471.57,499.00 L472.83,499.30 L474.09,499.58 L475.35,499.85 L476.61,500.11 L477.87,500.34 L479.14,500.55 L480.40,500.70" fill="none" stroke="#1aae52" stroke-width="1.85" stroke-linecap="butt" stroke-linejoin="round"/>
<path d="M59.50,287.50 L59.50,287.50 L59.51,287.52 L59.52,287.54 L59.53,287.57 L59.54,287.61 L59.56,287.65 L59.58,287.71 L59.61,287.77 L59.64,287.85 L59.67,287.93 L59.70,288.02 L59.74,288.12 L59.79,288.22 L59.83,288.34 L59.88,288.46 L59.93,288.59 L59.99,288.73 L60.05,288.88 L60.11,289.04 L60.18,289.21 L60.25,289.38 L60.32,289.56 L60.39,289.76 L60.47,289.95 L60.56,290.16 L60.64,290.38 L60.73,290.60 L60.83,290.84 L60.92,291.08 L61.02,291.33 L61.12,291.58 L61.23,291.85 L61.34,292.12 L61.45,292.40 L61.57,292.69 L61.69,292.99 L61.81,293.30 L61.94,293.61 L62.07,293.93 L62.20,294.26 L62.34,294.60 L62.48,294.95 L62.63,295.30 L62.77,295.66 L62.92,296.03 L63.08,296.41 L63.23,296.79 L63.39,297.18 L63.56,297.58 L63.73,297.99 L63.90,298.40 L64.07,298.83 L64.25,299.26 L64.43,299.69 L64.61,300.14 L64.80,300.59 L64.99,301.05 L65.19,301.52 L65.38,301.99 L65.59,302.47 L65.79,302.96 L66.00,303.46 L66.21,303.96 L66.42,304.47 L66.64,304.98 L66.86,305.51 L67.09,306.04 L67.32,306.57 L67.55,307.12 L67.78,307.67 L68.02,308.22 L68.26,308.79 L68.51,309.36 L68.76,309.93 L69.01,310.52 L69.26,311.11 L69.52,311.70 L69.78,312.30 L70.05,312.91 L70.32,313.53 L70.59,314.15 L70.87,314.77 L71.14,315.41 L71.43,316.04 L71.71,316.69 L72.00,317.34 L72.29,317.99 L72.59,318.65 L72.89,319.32 L73.19,319.99 L73.50,320.67 L73.81,321.35 L74.12,322.04 L74.44,322.74 L74.76,323.44 L75.08,324.14 L75.40,324.85 L75.73,325.56 L76.07,326.28 L76.40,327.01 L76.74,327.74 L77.09,328.47 L77.43,329.21 L77.78,329.95 L78.14,330.70 L78.49,331.45 L78.85,332.21 L79.22,332.97 L79.58,333.74 L79.95,334.51 L80.33,335.28 L80.70,336.06 L81.08,336.84 L81.47,337.62 L81.85,338.41 L82.25,339.21 L82.64,340.01 L83.04,340.81 L83.44,341.61 L83.84,342.42 L84.25,343.23 L84.66,344.04 L85.07,344.86 L85.49,345.68 L85.91,346.51 L86.34,347.34 L86.76,348.17 L87.19,349.00 L87.63,349.83 L88.07,350.67 L88.51,351.52 L88.95,352.36 L89.40,353.21 L89.85,354.06 L90.31,354.91 L90.76,355.76 L91.23,356.62 L91.69,357.48 L92.16,358.34 L92.63,359.20 L93.11,360.06 L93.58,360.93 L94.07,361.80 L94.55,362.67 L95.04,363.54 L95.53,364.41 L96.03,365.29 L96.53,366.16 L97.03,367.04 L97.53,367.92 L98.04,368.80 L98.55,369.68 L99.07,370.56 L99.59,371.45 L100.11,372.33 L100.64,373.22 L101.17,374.10 L101.70,374.99 L102.23,375.87 L102.77,376.76 L103.32,377.65 L103.86,378.54 L104.41,379.43 L104.96,380.31 L105.52,381.20 L106.08,382.09 L106.64,382.98 L107.21,383.87 L107.78,384.76 L108.35,385.65 L108.93,386.54 L109.51,387.43 L110.09,388.31 L110.68,389.20 L111.27,390.09 L111.86,390.97 L112.46,391.86 L113.06,392.74 L113.66,393.63 L114.27,394.51 L114.88,395.39 L115.49,396.27 L116.11,397.15 L116.73,398.03 L117.35,398.91 L117.98,399.78 L118.61,400.66 L119.24,401.53 L119.88,402.40 L120.52,403.28 L121.17,404.14 L121.81,405.01 L122.46,405.88 L123.12,406.74 L123.78,407.60 L124.44,408.46 L125.10,409.32 L125.77,410.17 L126.44,411.03 L127.11,411.88 L127.79,412.73 L128.47,413.57 L129.16,414.42 L129.85,415.26 L130.54,416.10 L131.23,416.93 L131.93,417.77 L132.63,418.60 L133.34,419.43 L134.04,420.25 L134.76,421.08 L135.47,421.90 L136.19,422.71 L136.91,423.53 L137.64,424.34 L138.37,425.15 L139.10,425.95 L139.83,426.75 L140.57,427.55 L141.31,428.35 L142.06,429.14 L142.81,429.93 L143.56,430.71 L144.32,431.50 L145.07,432.27 L145.84,433.05 L146.60,433.82 L147.37,434.58 L148.14,435.35 L148.92,436.11 L149.70,436.86 L150.48,437.62 L151.27,438.36 L152.06,439.11 L152.85,439.85 L153.65,440.58 L154.45,441.31 L155.25,442.04 L156.05,442.77 L156.86,443.49 L157.68,444.20 L158.49,444.91 L159.31,445.62 L160.14,446.32 L160.96,447.02 L161.79,447.71 L162.63,448.40 L163.46,449.09 L164.30,449.77 L165.15,450.44 L165.99,451.12 L166.84,451.78 L167.70,452.44 L168.55,453.10 L169.42,453.76 L170.28,454.40 L171.15,455.05 L172.02,455.69 L172.89,456.32 L173.77,456.95 L174.65,457.57 L175.53,458.19 L176.42,458.81 L177.31,459.42 L178.21,460.02 L179.10,460.63 L180.00,461.22 L180.91,461.81 L181.82,462.40 L182.73,462.98 L183.64,463.55 L184.56,464.13 L185.48,464.69 L186.41,465.25 L187.33,465.81 L188.26,466.36 L189.20,466.90 L190.14,467.45 L191.08,467.98 L192.02,468.51 L192.97,469.04 L193.92,469.56 L194.88,470.07 L195.84,470.59 L196.80,471.09 L197.76,471.59 L198.73,472.09 L199.70,472.58 L200.68,473.06 L201.66,473.54 L202.64,474.02 L203.63,474.49 L204.62,474.95 L205.61,475.41 L206.60,475.87 L207.60,476.32 L208.60,476.76 L209.61,477.20 L210.62,477.64 L211.63,478.06 L212.65,478.49 L213.67,478.91 L214.69,479.32 L215.72,479.73 L216.75,480.14 L217.78,480.54 L218.81,480.93 L219.85,481.32 L220.90,481.71 L221.94,482.09 L222.99,482.46 L224.05,482.83 L225.10,483.20 L226.16,483.56 L227.23,483.91 L228.29,484.26 L229.36,484.61 L230.44,484.95 L231.51,485.29 L232.59,485.62 L233.68,485.94 L234.76,486.27 L235.85,486.58 L236.95,486.90 L238.04,487.21 L239.14,487.51 L240.25,487.81 L241.36,488.10 L242.47,488.39 L243.58,488.68 L244.70,488.96 L245.82,489.24 L246.94,489.51 L248.07,489.77 L249.20,490.04 L250.33,490.30 L251.47,490.55 L252.61,490.80 L253.76,491.05 L254.90,491.29 L256.06,491.53 L257.21,491.76 L258.37,491.99 L259.53,492.22 L260.69,492.44 L261.86,492.66 L263.03,492.87 L264.21,493.08 L265.39,493.28 L266.57,493.48 L267.75,493.68 L268.94,493.88 L270.13,494.07 L271.33,494.25 L272.53,494.44 L273.73,494.61 L274.93,494.79 L276.14,494.96 L277.35,495.13 L278.57,495.29 L279.79,495.46 L281.01,495.61 L282.24,495.77 L283.47,495.92 L284.70,496.07 L285.93,496.21 L287.17,496.35 L288.41,496.49 L289.66,496.63 L290.91,496.76 L292.16,496.89 L293.42,497.01 L294.68,497.13 L295.94,497.25 L297.21,497.37 L298.48,497.48 L299.75,497.59 L301.02,497.70 L302.30,497.81 L303.59,497.91 L304.87,498.01 L306.16,498.11 L307.46,498.20 L308.75,498.30 L310.05,498.38 L311.36,498.47 L312.66,498.56 L313.97,498.64 L315.29,498.72 L316.60,498.80 L317.92,498.87 L319.25,498.95 L320.57,499.02 L321.90,499.09 L323.24,499.15 L324.57,499.22 L325.92,499.28 L327.26,499.34 L328.61,499.40 L329.96,499.46 L331.31,499.51 L332.67,499.56 L334.03,499.62 L335.39,499.67 L336.76,499.71 L338.13,499.76 L339.51,499.80 L340.88,499.85 L342.26,499.89 L343.65,499.93 L345.04,499.97 L346.43,500.00 L347.82,500.04 L349.22,500.07 L350.62,500.11 L352.03,500.14 L353.43,500.17 L354.85,500.20 L356.26,500.22 L357.68,500.25 L359.10,500.28 L360.53,500.30 L361.95,500.32 L363.39,500.35 L364.82,500.37 L366.26,500.39 L367.70,500.41 L369.15,500.42 L370.59,500.44 L372.05,500.46 L373.50,500.47 L374.96,500.49 L376.42,500.50 L377.89,500.52 L379.36,500.53 L380.83,500.54 L382.31,500.55 L383.78,500.56 L385.27,500.57 L386.75,500.58 L388.24,500.59 L389.73,500.60 L391.23,500.61 L392.73,500.62 L394.23,500.62 L395.74,500.63 L397.25,500.64 L398.76,500.64 L400.28,500.65 L401.80,500.65 L403.32,500.66 L404.85,500.66 L406.38,500.66 L407.91,500.67 L409.45,500.67 L410.99,500.67 L412.53,500.68 L414.08,500.68 L415.63,500.68 L417.18,500.68 L418.74,500.69 L420.30,500.69 L421.86,500.69 L423.43,500.69 L425.00,500.69 L426.57,500.69 L428.15,500.69 L429.73,500.69 L431.31,500.70 L432.90,500.70 L434.49,500.70 L436.08,500.70 L437.68,500.70 L439.28,500.70 L440.89,500.70 L442.49,500.70 L444.10,500.70 L445.72,500.70 L447.34,500.70 L448.96,500.70 L450.58,500.70 L452.21,500.70 L453.84,500.70 L455.48,500.70 L457.11,500.70 L458.76,500.70 L460.40,500.70 L462.05,500.70 L463.70,500.70 L465.35,500.70 L467.01,500.70 L468.67,500.70 L470.34,500.70 L472.01,500.70 L473.68,500.70 L475.35,500.70 L477.03,500.70 L478.71,500.70 L480.40,500.70" fill="none" stroke="#1aae52" stroke-width="1.85" stroke-dasharray="6.6,4.95" stroke-linecap="butt" stroke-linejoin="round"/>
<path d="M59.50,287.50 L59.50,287.52 L59.51,287.59 L59.52,287.69 L59.53,287.84 L59.54,288.03 L59.56,288.27 L59.58,288.55 L59.61,288.87 L59.64,289.23 L59.67,289.63 L59.70,290.08 L59.74,290.56 L59.79,291.09 L59.83,291.66 L59.88,292.26 L59.93,292.91 L59.99,293.60 L60.05,294.33 L60.11,295.09 L60.18,295.90 L60.25,296.74 L60.32,297.62 L60.39,298.54 L60.47,299.49 L60.56,300.48 L60.64,301.51 L60.73,302.57 L60.83,303.66 L60.92,304.79 L61.02,305.95 L61.12,307.15 L61.23,308.37 L61.34,309.63 L61.45,310.91 L61.57,312.23 L61.69,313.58 L61.81,314.95 L61.94,316.35 L62.07,317.78 L62.20,319.23 L62.34,320.71 L62.48,322.22 L62.63,323.74 L62.77,325.30 L62.92,326.87 L63.08,328.46 L63.23,330.08 L63.39,331.71 L63.56,333.37 L63.73,335.04 L63.90,336.73 L64.07,338.43 L64.25,340.15 L64.43,341.89 L64.61,343.64 L64.80,345.40 L64.99,347.17 L65.19,348.96 L65.38,350.76 L65.59,352.56 L65.79,354.38 L66.00,356.20 L66.21,358.03 L66.42,359.87 L66.64,361.71 L66.86,363.56 L67.09,365.41 L67.32,367.27 L67.55,369.12 L67.78,370.98 L68.02,372.84 L68.26,374.70 L68.51,376.56 L68.76,378.42 L69.01,380.28 L69.26,382.13 L69.52,383.98 L69.78,385.83 L70.05,387.67 L70.32,389.51 L70.59,391.34 L70.87,393.16 L71.14,394.98 L71.43,396.79 L71.71,398.58 L72.00,400.38 L72.29,402.16 L72.59,403.93 L72.89,405.69 L73.19,407.43 L73.50,409.17 L73.81,410.89 L74.12,412.60 L74.44,414.30 L74.76,415.99 L75.08,417.66 L75.40,419.31 L75.73,420.95 L76.07,422.58 L76.40,424.18 L76.74,425.78 L77.09,427.35 L77.43,428.91 L77.78,430.45 L78.14,431.98 L78.49,433.49 L78.85,434.98 L79.22,436.45 L79.58,437.90 L79.95,439.33 L80.33,440.75 L80.70,442.14 L81.08,443.52 L81.47,444.88 L81.85,446.22 L82.25,447.54 L82.64,448.84 L83.04,450.12 L83.44,451.38 L83.84,452.62 L84.25,453.84 L84.66,455.03 L85.07,456.21 L85.49,457.37 L85.91,458.51 L86.34,459.63 L86.76,460.73 L87.19,461.81 L87.63,462.87 L88.07,463.91 L88.51,464.93 L88.95,465.93 L89.40,466.92 L89.85,467.88 L90.31,468.82 L90.76,469.74 L91.23,470.65 L91.69,471.53 L92.16,472.40 L92.63,473.24 L93.11,474.07 L93.58,474.88 L94.07,475.67 L94.55,476.45 L95.04,477.20 L95.53,477.94 L96.03,478.66 L96.53,479.37 L97.03,480.05 L97.53,480.72 L98.04,481.38 L98.55,482.01 L99.07,482.63 L99.59,483.24 L100.11,483.83 L100.64,484.40 L101.17,484.96 L101.70,485.50 L102.23,486.03 L102.77,486.55 L103.32,487.05 L103.86,487.53 L104.41,488.00 L104.96,488.46 L105.52,488.91 L106.08,489.34 L106.64,489.76 L107.21,490.17 L107.78,490.56 L108.35,490.94 L108.93,491.31 L109.51,491.67 L110.09,492.02 L110.68,492.36 L111.27,492.69 L111.86,493.00 L112.46,493.31 L113.06,493.60 L113.66,493.89 L114.27,494.16 L114.88,494.43 L115.49,494.69 L116.11,494.94 L116.73,495.18 L117.35,495.41 L117.98,495.63 L118.61,495.85 L119.24,496.06 L119.88,496.26 L120.52,496.45 L121.17,496.64 L121.81,496.82 L122.46,496.99 L123.12,497.16 L123.78,497.31 L124.44,497.47 L125.10,497.62 L125.77,497.76 L126.44,497.89 L127.11,498.02 L127.79,498.15 L128.47,498.27 L129.16,498.39 L129.85,498.50 L130.54,498.60 L131.23,498.70 L131.93,498.80 L132.63,498.89 L133.34,498.98 L134.04,499.07 L134.76,499.15 L135.47,499.23 L136.19,499.30 L136.91,499.38 L137.64,499.44 L138.37,499.51 L139.10,499.57 L139.83,499.63 L140.57,499.69 L141.31,499.74 L142.06,499.79 L142.81,499.84 L143.56,499.89 L144.32,499.93 L145.07,499.97 L145.84,500.01 L146.60,500.05 L147.37,500.09 L148.14,500.12 L148.92,500.16 L149.70,500.19 L150.48,500.22 L151.27,500.24 L152.06,500.27 L152.85,500.30 L153.65,500.32 L154.45,500.34 L155.25,500.36 L156.05,500.38 L156.86,500.40 L157.68,500.42 L158.49,500.44 L159.31,500.45 L160.14,500.47 L160.96,500.48 L161.79,500.50 L162.63,500.51 L163.46,500.52 L164.30,500.53 L165.15,500.54 L165.99,500.55 L166.84,500.56 L167.70,500.57 L168.55,500.58 L169.42,500.59 L170.28,500.60 L171.15,500.60 L172.02,500.61 L172.89,500.62 L173.77,500.62 L174.65,500.63 L175.53,500.63 L176.42,500.64 L177.31,500.64 L178.21,500.65 L179.10,500.65 L180.00,500.65 L180.91,500.66 L181.82,500.66 L182.73,500.66 L183.64,500.67 L184.56,500.67 L185.48,500.67 L186.41,500.67 L187.33,500.67 L188.26,500.68 L189.20,500.68 L190.14,500.68 L191.08,500.68 L192.02,500.68 L192.97,500.68 L193.92,500.69 L194.88,500.69 L195.84,500.69 L196.80,500.69 L197.76,500.69 L198.73,500.69 L199.70,500.69 L200.68,500.69 L201.66,500.69 L202.64,500.69 L203.63,500.69 L204.62,500.69 L205.61,500.69 L206.60,500.70 L207.60,500.70 L208.60,500.70 L209.61,500.70 L210.62,500.70 L211.63,500.70 L212.65,500.70 L213.67,500.70 L214.69,500.70 L215.72,500.70 L216.75,500.70 L217.78,500.70 L218.81,500.70 L219.85,500.70 L220.90,500.70 L221.94,500.70 L222.99,500.70 L224.05,500.70 L225.10,500.70 L226.16,500.70 L227.23,500.70 L228.29,500.70 L229.36,500.70 L230.44,500.70 L231.51,500.70 L232.59,500.70 L233.68,500.70 L234.76,500.70 L235.85,500.70 L236.95,500.70 L238.04,500.70 L239.14,500.70 L240.25,500.70 L241.36,500.70 L242.47,500.70 L243.58,500.70 L244.70,500.70 L245.82,500.70 L246.94,500.70 L248.07,500.70 L249.20,500.70 L250.33,500.70 L251.47,500.70 L252.61,500.70 L253.76,500.70 L254.90,500.70 L256.06,500.70 L257.21,500.70 L258.37,500.70 L259.53,500.70 L260.69,500.70 L261.86,500.70 L263.03,500.70 L264.21,500.70 L265.39,500.70 L266.57,500.70 L267.75,500.70 L268.94,500.70 L270.13,500.70 L271.33,500.70 L272.53,500.70 L273.73,500.70 L274.93,500.70 L276.14,500.70 L277.35,500.70 L278.57,500.70 L279.79,500.70 L281.01,500.70 L282.24,500.70 L283.47,500.70 L284.70,500.70 L285.93,500.70 L287.17,500.70 L288.41,500.70 L289.66,500.70 L290.91,500.70 L292.16,500.70 L293.42,500.70 L294.68,500.70 L295.94,500.70 L297.21,500.70 L298.48,500.70 L299.75,500.70 L301.02,500.70 L302.30,500.70 L303.59,500.70 L304.87,500.70 L306.16,500.70 L307.46,500.70 L308.75,500.70 L310.05,500.70 L311.36,500.70 L312.66,500.70 L313.97,500.70 L315.29,500.70 L316.60,500.70 L317.92,500.70 L319.25,500.70 L320.57,500.70 L321.90,500.70 L323.24,500.70 L324.57,500.70 L325.92,500.70 L327.26,500.70 L328.61,500.70 L329.96,500.70 L331.31,500.70 L332.67,500.70 L334.03,500.70 L335.39,500.70 L336.76,500.70 L338.13,500.70 L339.51,500.70 L340.88,500.70 L342.26,500.70 L343.65,500.70 L345.04,500.70 L346.43,500.70 L347.82,500.70 L349.22,500.70 L350.62,500.70 L352.03,500.70 L353.43,500.70 L354.85,500.70 L356.26,500.70 L357.68,500.70 L359.10,500.70 L360.53,500.70 L361.95,500.70 L363.39,500.70 L364.82,500.70 L366.26,500.70 L367.70,500.70 L369.15,500.70 L370.59,500.70 L372.05,500.70 L373.50,500.70 L374.96,500.70 L376.42,500.70 L377.89,500.70 L379.36,500.70 L380.83,500.70 L382.31,500.70 L383.78,500.70 L385.27,500.70 L386.75,500.70 L388.24,500.70 L389.73,500.70 L391.23,500.70 L392.73,500.70 L394.23,500.70 L395.74,500.70 L397.25,500.70 L398.76,500.70 L400.28,500.70 L401.80,500.70 L403.32,500.70 L404.85,500.70 L406.38,500.70 L407.91,500.70 L409.45,500.70 L410.99,500.70 L412.53,500.70 L414.08,500.70 L415.63,500.70 L417.18,500.70 L418.74,500.70 L420.30,500.70 L421.86,500.70 L423.43,500.70 L425.00,500.70 L426.57,500.70 L428.15,500.70 L429.73,500.70 L431.31,500.70 L432.90,500.70 L434.49,500.70 L436.08,500.70 L437.68,500.70 L439.28,500.70 L440.89,500.70 L442.49,500.70 L444.10,500.70 L445.72,500.70 L447.34,500.70 L448.96,500.70 L450.58,500.70 L452.21,500.70 L453.84,500.70 L455.48,500.70 L457.11,500.70 L458.76,500.70 L460.40,500.70 L462.05,500.70 L463.70,500.70 L465.35,500.70 L467.01,500.70 L468.67,500.70 L470.34,500.70 L472.01,500.70 L473.68,500.70 L475.35,500.70 L477.03,500.70 L478.71,500.70 L480.40,500.70" fill="none" stroke="#1aae52" stroke-width="1.85" stroke-dasharray="1.65,1.65" stroke-linecap="butt" stroke-linejoin="round"/>
<text x="50" y="504.35" text-anchor="end" font-size="11" font-family="Liberation Serif, serif" fill="#1a1a1a" stroke="#1a1a1a" style="stroke-width:0.22px">0</text>
<text x="50" y="461.71" text-anchor="end" font-size="11" font-family="Liberation Serif, serif" fill="#1a1a1a" stroke="#1a1a1a" style="stroke-width:0.22px">0.2</text>
<text x="50" y="419.07" text-anchor="end" font-size="11" font-family="Liberation Serif, serif" fill="#1a1a1a" stroke="#1a1a1a" style="stroke-width:0.22px">0.4</text>
<text x="50" y="376.43" text-anchor="end" font-size="11" font-family="Liberation Serif, serif" fill="#1a1a1a" stroke="#1a1a1a" style="stroke-width:0.22px">0.6</text>
<text x="50" y="333.79" text-anchor="end" font-size="11" font-family="Liberation Serif, serif" fill="#1a1a1a" stroke="#1a1a1a" style="stroke-width:0.22px">0.8</text>
<text x="50" y="291.15" text-anchor="end" font-size="11" font-family="Liberation Serif, serif" fill="#1a1a1a" stroke="#1a1a1a" style="stroke-width:0.22px">1</text>
<text x="59.50" y="517.90" text-anchor="middle" font-size="11" font-family="Liberation Serif, serif" fill="#1a1a1a" stroke="#1a1a1a" style="stroke-width:0.22px">0</text>
<text x="143.68" y="517.90" text-anchor="middle" font-size="11" font-family="Liberation Serif, serif" fill="#1a1a1a" stroke="#1a1a1a" style="stroke-width:0.22px">0.2</text>
<text x="227.86" y="517.90" text-anchor="middle" font-size="11" font-family="Liberation Serif, serif" fill="#1a1a1a" stroke="#1a1a1a" style="stroke-width:0.22px">0.4</text>
<text x="312.04" y="517.90" text-anchor="middle" font-size="11" font-family="Liberation Serif, serif" fill="#1a1a1a" stroke="#1a1a1a" style="stroke-width:0.22px">0.6</text>
<text x="396.22" y="517.90" text-anchor="middle" font-size="11" font-family="Liberation Serif, serif" fill="#1a1a1a" stroke="#1a1a1a" style="stroke-width:0.22px">0.8</text>
<text x="480.40" y="517.90" text-anchor="middle" font-size="11" font-family="Liberation Serif, serif" fill="#1a1a1a" stroke="#1a1a1a" style="stroke-width:0.22px">1</text>
<text x="218.9" y="540.6" font-size="14.55" font-family="Liberation Serif, serif" fill="#000" stroke="#000" style="stroke-width:0.12px">Hydrate saturation <tspan font-style="italic">S</tspan><tspan font-style="italic" font-size="9.5" dy="3.8" dx="0.4">h</tspan></text>
<text transform="translate(21.5,399.3) rotate(-90)" text-anchor="middle" font-size="14.55" font-family="Liberation Serif, serif" fill="#000" stroke="#000" style="stroke-width:0.12px">Normalized permeability <tspan font-style="italic">K</tspan><tspan font-style="italic" font-size="9.5" dy="3.8" dx="0.4">n</tspan></text>
<text x="7.0" y="291.1" font-size="14" font-weight="bold" font-family="Liberation Serif, serif" fill="#111" stroke="#111">(b)</text>
<text x="255.8" y="375.9" font-size="11.3" font-family="Liberation Serif, serif" fill="#1aae52" text-anchor="middle">Tokyo Model</text>
<text x="255.4" y="388.8" font-size="11.3" font-family="Liberation Serif, serif" fill="#1aae52" text-anchor="middle">N=1.25</text>
<text x="181.7" y="434.3" font-size="11.3" font-family="Liberation Serif, serif" fill="#1aae52" text-anchor="middle">Tokyo Model</text>
<text x="181.9" y="447.3" font-size="11.3" font-family="Liberation Serif, serif" fill="#1aae52" text-anchor="middle">N=5</text>
<text x="128.0" y="475.9" font-size="11.3" font-family="Liberation Serif, serif" fill="#1aae52" text-anchor="middle">Tokyo Model</text>
<text x="127.9" y="489.3" font-size="11.3" font-family="Liberation Serif, serif" fill="#1aae52" text-anchor="middle">N=25</text>
<rect x="98.79" y="324.78" width="5.6" height="5.6" fill="none" stroke="#ff0000" stroke-width="1.4"/>
<rect x="140.88" y="361.67" width="5.6" height="5.6" fill="none" stroke="#ff0000" stroke-width="1.4"/>
<rect x="182.97" y="393.43" width="5.6" height="5.6" fill="none" stroke="#ff0000" stroke-width="1.4"/>
<rect x="225.06" y="421.57" width="5.6" height="5.6" fill="none" stroke="#ff0000" stroke-width="1.4"/>
<rect x="267.15" y="444.81" width="5.6" height="5.6" fill="none" stroke="#ff0000" stroke-width="1.4"/>
<rect x="309.24" y="464.43" width="5.6" height="5.6" fill="none" stroke="#ff0000" stroke-width="1.4"/>
<rect x="351.33" y="479.14" width="5.6" height="5.6" fill="none" stroke="#ff0000" stroke-width="1.4"/>
<rect x="393.42" y="489.37" width="5.6" height="5.6" fill="none" stroke="#ff0000" stroke-width="1.4"/>
<rect x="414.46" y="492.57" width="5.6" height="5.6" fill="none" stroke="#ff0000" stroke-width="1.4"/>
<rect x="469.18" y="497.90" width="5.6" height="5.6" fill="none" stroke="#ff0000" stroke-width="1.4"/>
<circle cx="101.59" cy="337.18" r="2.9" fill="none" stroke="#0000ff" stroke-width="1.4"/>
<circle cx="143.68" cy="378.96" r="2.9" fill="none" stroke="#0000ff" stroke-width="1.4"/>
<circle cx="185.77" cy="413.29" r="2.9" fill="none" stroke="#0000ff" stroke-width="1.4"/>
<circle cx="227.86" cy="441.43" r="2.9" fill="none" stroke="#0000ff" stroke-width="1.4"/>
<circle cx="269.95" cy="463.60" r="2.9" fill="none" stroke="#0000ff" stroke-width="1.4"/>
<circle cx="312.04" cy="479.81" r="2.9" fill="none" stroke="#0000ff" stroke-width="1.4"/>
<circle cx="354.13" cy="490.47" r="2.9" fill="none" stroke="#0000ff" stroke-width="1.4"/>
<circle cx="396.22" cy="496.44" r="2.9" fill="none" stroke="#0000ff" stroke-width="1.4"/>
<circle cx="438.31" cy="499.63" r="2.9" fill="none" stroke="#0000ff" stroke-width="1.4"/>
<circle cx="59.50" cy="300.93" r="3.4" fill="#0000ff"/>
<circle cx="63.71" cy="329.07" r="3.4" fill="#0000ff"/>
<circle cx="67.92" cy="344.85" r="3.4" fill="#0000ff"/>
<circle cx="76.34" cy="366.38" r="3.4" fill="#0000ff"/>
<circle cx="84.75" cy="382.16" r="3.4" fill="#0000ff"/>
<circle cx="93.17" cy="394.31" r="3.4" fill="#0000ff"/>
<circle cx="97.38" cy="399.86" r="3.4" fill="#0000ff"/>
<circle cx="101.59" cy="404.97" r="3.4" fill="#0000ff"/>
<circle cx="122.63" cy="426.08" r="3.4" fill="#0000ff"/>
<circle cx="143.68" cy="441.64" r="3.4" fill="#0000ff"/>
<circle cx="164.72" cy="454.22" r="3.4" fill="#0000ff"/>
<circle cx="185.77" cy="464.88" r="3.4" fill="#0000ff"/>
<circle cx="206.81" cy="472.34" r="3.4" fill="#0000ff"/>
<circle cx="227.86" cy="479.38" r="3.4" fill="#0000ff"/>
<circle cx="269.95" cy="489.19" r="3.4" fill="#0000ff"/>
<circle cx="312.04" cy="494.94" r="3.4" fill="#0000ff"/>
<circle cx="354.13" cy="497.50" r="3.4" fill="#0000ff"/>
<rect x="56.10" y="284.10" width="6.8" height="6.8" fill="#ff0000"/>
<rect x="56.10" y="345.93" width="6.8" height="6.8" fill="#ff0000"/>
<rect x="60.31" y="375.35" width="6.8" height="6.8" fill="#ff0000"/>
<rect x="64.52" y="388.57" width="6.8" height="6.8" fill="#ff0000"/>
<rect x="72.94" y="406.69" width="6.8" height="6.8" fill="#ff0000"/>
<rect x="81.35" y="419.06" width="6.8" height="6.8" fill="#ff0000"/>
<rect x="89.77" y="428.44" width="6.8" height="6.8" fill="#ff0000"/>
<rect x="93.98" y="432.27" width="6.8" height="6.8" fill="#ff0000"/>
<rect x="98.19" y="436.32" width="6.8" height="6.8" fill="#ff0000"/>
<rect x="119.23" y="451.68" width="6.8" height="6.8" fill="#ff0000"/>
<rect x="140.28" y="462.34" width="6.8" height="6.8" fill="#ff0000"/>
<rect x="161.32" y="470.86" width="6.8" height="6.8" fill="#ff0000"/>
<rect x="182.37" y="477.26" width="6.8" height="6.8" fill="#ff0000"/>
<rect x="203.41" y="482.38" width="6.8" height="6.8" fill="#ff0000"/>
<rect x="224.46" y="486.00" width="6.8" height="6.8" fill="#ff0000"/>
<rect x="245.50" y="488.99" width="6.8" height="6.8" fill="#ff0000"/>
<rect x="266.55" y="491.54" width="6.8" height="6.8" fill="#ff0000"/>
<rect x="287.60" y="493.25" width="6.8" height="6.8" fill="#ff0000"/>
<rect x="308.64" y="494.10" width="6.8" height="6.8" fill="#ff0000"/>
<rect x="329.69" y="496.02" width="6.8" height="6.8" fill="#ff0000"/>
<rect x="350.73" y="496.45" width="6.8" height="6.8" fill="#ff0000"/>
<rect x="371.77" y="497.30" width="6.8" height="6.8" fill="#ff0000"/>
<rect x="392.82" y="497.30" width="6.8" height="6.8" fill="#ff0000"/>
<rect x="413.87" y="497.30" width="6.8" height="6.8" fill="#ff0000"/>
<rect x="434.91" y="497.30" width="6.8" height="6.8" fill="#ff0000"/>
<rect x="455.95" y="497.30" width="6.8" height="6.8" fill="#ff0000"/>
<rect x="477.00" y="497.30" width="6.8" height="6.8" fill="#ff0000"/>
<rect x="344.90" y="306.90" width="5.0" height="5.0" fill="none" stroke="#ff0000" stroke-width="1.4"/>
<text x="353" y="313.40" font-size="11.4" font-family="Liberation Serif, serif" fill="#1a1a1a" stroke="#1a1a1a">PCTM (grain-coating)</text>
<circle cx="347.40" cy="332.60" r="2.9" fill="none" stroke="#0000ff" stroke-width="1.4"/>
<text x="353" y="336.60" font-size="11.4" font-family="Liberation Serif, serif" fill="#1a1a1a" stroke="#1a1a1a">KGM (grain-coating)</text>
<circle cx="347.40" cy="354.70" r="3.4" fill="#0000ff"/>
<text x="353" y="358.70" font-size="11.4" font-family="Liberation Serif, serif" fill="#1a1a1a" stroke="#1a1a1a">KGM (pore-filling)</text>
<rect x="344.20" y="373.80" width="6.4" height="6.4" fill="#ff0000"/>
<text x="353" y="381.00" font-size="11.4" font-family="Liberation Serif, serif" fill="#1a1a1a" stroke="#1a1a1a">PCTM (pore-filling)</text>
</svg>
</body></html>
